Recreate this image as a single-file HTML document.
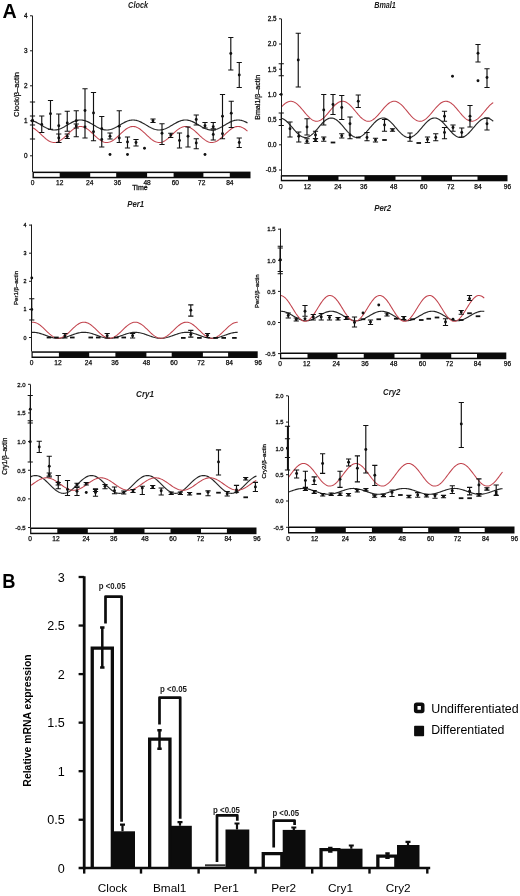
<!DOCTYPE html>
<html><head><meta charset="utf-8"><title>Figure</title>
<style>html,body{margin:0;padding:0;background:#fff;}svg{display:block;}</style>
</head><body>
<svg width="520" height="896" viewBox="0 0 520 896" font-family='"Liberation Sans", Arial, sans-serif'>
<rect width="520" height="896" fill="#fff"/>
<path d="M32.5,120.71 L33.5,121.04 L34.5,121.44 L35.5,121.88 L36.5,122.37 L37.5,122.9 L38.5,123.45 L39.5,124.03 L40.5,124.63 L41.5,125.22 L42.5,125.82 L43.5,126.4 L44.5,126.97 L45.5,127.5 L46.5,128 L47.5,128.46 L48.5,128.86 L49.5,129.21 L50.5,129.5 L51.5,129.73 L52.5,129.89 L53.5,129.98 L54.5,130 L55.5,129.94 L56.5,129.82 L57.5,129.63 L58.5,129.37 L59.5,129.05 L60.5,128.67 L61.5,128.23 L62.5,127.75 L63.5,127.24 L64.5,126.69 L65.5,126.11 L66.5,125.52 L67.5,124.93 L68.5,124.33 L69.5,123.74 L70.5,123.17 L71.5,122.63 L72.5,122.12 L73.5,121.65 L74.5,121.23 L75.5,120.87 L76.5,120.56 L77.5,120.32 L78.5,120.14 L79.5,120.04 L80.5,120 L81.5,120.04 L82.5,120.14 L83.5,120.32 L84.5,120.56 L85.5,120.87 L86.5,121.23 L87.5,121.65 L88.5,122.12 L89.5,122.63 L90.5,123.17 L91.5,123.74 L92.5,124.33 L93.5,124.93 L94.5,125.52 L95.5,126.11 L96.5,126.69 L97.5,127.24 L98.5,127.75 L99.5,128.23 L100.5,128.67 L101.5,129.05 L102.5,129.37 L103.5,129.63 L104.5,129.82 L105.5,129.94 L106.5,130 L107.5,129.98 L108.5,129.89 L109.5,129.73 L110.5,129.5 L111.5,129.21 L112.5,128.86 L113.5,128.46 L114.5,128 L115.5,127.5 L116.5,126.97 L117.5,126.4 L118.5,125.82 L119.5,125.22 L120.5,124.63 L121.5,124.03 L122.5,123.45 L123.5,122.9 L124.5,122.37 L125.5,121.88 L126.5,121.44 L127.5,121.04 L128.5,120.71 L129.5,120.43 L130.5,120.22 L131.5,120.08 L132.5,120.01 L133.5,120.01 L134.5,120.08 L135.5,120.22 L136.5,120.43 L137.5,120.71 L138.5,121.04 L139.5,121.44 L140.5,121.88 L141.5,122.37 L142.5,122.9 L143.5,123.45 L144.5,124.03 L145.5,124.63 L146.5,125.22 L147.5,125.82 L148.5,126.4 L149.5,126.97 L150.5,127.5 L151.5,128 L152.5,128.46 L153.5,128.86 L154.5,129.21 L155.5,129.5 L156.5,129.73 L157.5,129.89 L158.5,129.98 L159.5,130 L160.5,129.94 L161.5,129.82 L162.5,129.63 L163.5,129.37 L164.5,129.05 L165.5,128.67 L166.5,128.23 L167.5,127.75 L168.5,127.24 L169.5,126.69 L170.5,126.11 L171.5,125.52 L172.5,124.93 L173.5,124.33 L174.5,123.74 L175.5,123.17 L176.5,122.63 L177.5,122.12 L178.5,121.65 L179.5,121.23 L180.5,120.87 L181.5,120.56 L182.5,120.32 L183.5,120.14 L184.5,120.04 L185.5,120 L186.5,120.04 L187.5,120.14 L188.5,120.32 L189.5,120.56 L190.5,120.87 L191.5,121.23 L192.5,121.65 L193.5,122.12 L194.5,122.63 L195.5,123.17 L196.5,123.74 L197.5,124.33 L198.5,124.93 L199.5,125.52 L200.5,126.11 L201.5,126.69 L202.5,127.24 L203.5,127.75 L204.5,128.23 L205.5,128.67 L206.5,129.05 L207.5,129.37 L208.5,129.63 L209.5,129.82 L210.5,129.94 L211.5,130 L212.5,129.98 L213.5,129.89 L214.5,129.73 L215.5,129.5 L216.5,129.21 L217.5,128.86 L218.5,128.46 L219.5,128 L220.5,127.5 L221.5,126.97 L222.5,126.4 L223.5,125.82 L224.5,125.22 L225.5,124.63 L226.5,124.03 L227.5,123.45 L228.5,122.9 L229.5,122.37 L230.5,121.88 L231.5,121.44 L232.5,121.04 L233.5,120.71 L234.5,120.43 L235.5,120.22 L236.5,120.08 L237.5,120.01 L238.5,120.01 L239.5,120.08 L240.5,120.22 L241.5,120.43 L242.5,120.71 L243.5,121.04 L244.5,121.44 L245.5,121.88 L246.5,122.37 L247.5,122.9" fill="none" stroke="#262626" stroke-width="1.15"/>
<path d="M32.5,127.63 L33.5,128.17 L34.5,128.8 L35.5,129.51 L36.5,130.29 L37.5,131.14 L38.5,132.03 L39.5,132.95 L40.5,133.9 L41.5,134.86 L42.5,135.81 L43.5,136.74 L44.5,137.64 L45.5,138.5 L46.5,139.3 L47.5,140.03 L48.5,140.68 L49.5,141.24 L50.5,141.71 L51.5,142.07 L52.5,142.33 L53.5,142.47 L54.5,142.5 L55.5,142.41 L56.5,142.21 L57.5,141.9 L58.5,141.49 L59.5,140.97 L60.5,140.36 L61.5,139.67 L62.5,138.91 L63.5,138.08 L64.5,137.2 L65.5,136.28 L66.5,135.34 L67.5,134.38 L68.5,133.43 L69.5,132.49 L70.5,131.58 L71.5,130.71 L72.5,129.9 L73.5,129.15 L74.5,128.48 L75.5,127.89 L76.5,127.4 L77.5,127.01 L78.5,126.73 L79.5,126.56 L80.5,126.5 L81.5,126.56 L82.5,126.73 L83.5,127.01 L84.5,127.4 L85.5,127.89 L86.5,128.48 L87.5,129.15 L88.5,129.9 L89.5,130.71 L90.5,131.58 L91.5,132.49 L92.5,133.43 L93.5,134.38 L94.5,135.34 L95.5,136.28 L96.5,137.2 L97.5,138.08 L98.5,138.91 L99.5,139.67 L100.5,140.36 L101.5,140.97 L102.5,141.49 L103.5,141.9 L104.5,142.21 L105.5,142.41 L106.5,142.5 L107.5,142.47 L108.5,142.33 L109.5,142.07 L110.5,141.71 L111.5,141.24 L112.5,140.68 L113.5,140.03 L114.5,139.3 L115.5,138.5 L116.5,137.64 L117.5,136.74 L118.5,135.81 L119.5,134.86 L120.5,133.9 L121.5,132.95 L122.5,132.03 L123.5,131.14 L124.5,130.29 L125.5,129.51 L126.5,128.8 L127.5,128.17 L128.5,127.63 L129.5,127.19 L130.5,126.86 L131.5,126.63 L132.5,126.51 L133.5,126.51 L134.5,126.63 L135.5,126.86 L136.5,127.19 L137.5,127.63 L138.5,128.17 L139.5,128.8 L140.5,129.51 L141.5,130.29 L142.5,131.14 L143.5,132.03 L144.5,132.95 L145.5,133.9 L146.5,134.86 L147.5,135.81 L148.5,136.74 L149.5,137.64 L150.5,138.5 L151.5,139.3 L152.5,140.03 L153.5,140.68 L154.5,141.24 L155.5,141.71 L156.5,142.07 L157.5,142.33 L158.5,142.47 L159.5,142.5 L160.5,142.41 L161.5,142.21 L162.5,141.9 L163.5,141.49 L164.5,140.97 L165.5,140.36 L166.5,139.67 L167.5,138.91 L168.5,138.08 L169.5,137.2 L170.5,136.28 L171.5,135.34 L172.5,134.38 L173.5,133.43 L174.5,132.49 L175.5,131.58 L176.5,130.71 L177.5,129.9 L178.5,129.15 L179.5,128.48 L180.5,127.89 L181.5,127.4 L182.5,127.01 L183.5,126.73 L184.5,126.56 L185.5,126.5 L186.5,126.56 L187.5,126.73 L188.5,127.01 L189.5,127.4 L190.5,127.89 L191.5,128.48 L192.5,129.15 L193.5,129.9 L194.5,130.71 L195.5,131.58 L196.5,132.49 L197.5,133.43 L198.5,134.38 L199.5,135.34 L200.5,136.28 L201.5,137.2 L202.5,138.08 L203.5,138.91 L204.5,139.67 L205.5,140.36 L206.5,140.97 L207.5,141.49 L208.5,141.9 L209.5,142.21 L210.5,142.41 L211.5,142.5 L212.5,142.47 L213.5,142.33 L214.5,142.07 L215.5,141.71 L216.5,141.24 L217.5,140.68 L218.5,140.03 L219.5,139.3 L220.5,138.5 L221.5,137.64 L222.5,136.74 L223.5,135.81 L224.5,134.86 L225.5,133.9 L226.5,132.95 L227.5,132.03 L228.5,131.14 L229.5,130.29 L230.5,129.51 L231.5,128.8 L232.5,128.17 L233.5,127.63 L234.5,127.19 L235.5,126.86 L236.5,126.63 L237.5,126.51 L238.5,126.51 L239.5,126.63 L240.5,126.86 L241.5,127.19 L242.5,127.63 L243.5,128.17 L244.5,128.8 L245.5,129.51 L246.5,130.29 L247.5,131.14" fill="none" stroke="#c2444e" stroke-width="1.05"/>
<line x1="32.5" y1="15.8" x2="32.5" y2="172" stroke="#1c1c1c" stroke-width="1"/>
<line x1="30" y1="15.8" x2="32.5" y2="15.8" stroke="#1c1c1c" stroke-width="1"/>
<text x="27.5" y="18.23" font-size="6.4" text-anchor="end" stroke="#111" stroke-width="0.28">4</text>
<line x1="30" y1="50.8" x2="32.5" y2="50.8" stroke="#1c1c1c" stroke-width="1"/>
<text x="27.5" y="53.23" font-size="6.4" text-anchor="end" stroke="#111" stroke-width="0.28">3</text>
<line x1="30" y1="85.8" x2="32.5" y2="85.8" stroke="#1c1c1c" stroke-width="1"/>
<text x="27.5" y="88.23" font-size="6.4" text-anchor="end" stroke="#111" stroke-width="0.28">2</text>
<line x1="30" y1="120.8" x2="32.5" y2="120.8" stroke="#1c1c1c" stroke-width="1"/>
<text x="27.5" y="123.23" font-size="6.4" text-anchor="end" stroke="#111" stroke-width="0.28">1</text>
<line x1="30" y1="155.8" x2="32.5" y2="155.8" stroke="#1c1c1c" stroke-width="1"/>
<text x="27.5" y="158.23" font-size="6.4" text-anchor="end" stroke="#111" stroke-width="0.28">0</text>
<rect x="32.5" y="171.6" width="218" height="6.7" fill="#0a0a0a"/>
<rect x="33.9" y="173.1" width="25.8" height="3.7" fill="#fff"/>
<rect x="90.2" y="173.1" width="26" height="3.7" fill="#fff"/>
<rect x="147.1" y="173.1" width="26.5" height="3.7" fill="#fff"/>
<rect x="203.4" y="173.1" width="26.4" height="3.7" fill="#fff"/>
<text x="32.5" y="184.8" font-size="6.6" text-anchor="middle" stroke="#111" stroke-width="0.25">0</text>
<text x="59.7" y="184.8" font-size="6.6" text-anchor="middle" stroke="#111" stroke-width="0.25">12</text>
<text x="89.7" y="184.8" font-size="6.6" text-anchor="middle" stroke="#111" stroke-width="0.25">24</text>
<text x="117.4" y="184.8" font-size="6.6" text-anchor="middle" stroke="#111" stroke-width="0.25">36</text>
<text x="147.1" y="184.8" font-size="6.6" text-anchor="middle" stroke="#111" stroke-width="0.25">48</text>
<text x="175.3" y="184.8" font-size="6.6" text-anchor="middle" stroke="#111" stroke-width="0.25">60</text>
<text x="201.7" y="184.8" font-size="6.6" text-anchor="middle" stroke="#111" stroke-width="0.25">72</text>
<text x="229.8" y="184.8" font-size="6.6" text-anchor="middle" stroke="#111" stroke-width="0.25">84</text>
<text x="128.1" y="8.1" font-size="8.6" font-weight="bold" font-style="italic" fill="#1a1a1a" textLength="20" lengthAdjust="spacingAndGlyphs">Clock</text>
<text x="18.6" y="94.5" font-size="7.4" text-anchor="middle" textLength="45" lengthAdjust="spacingAndGlyphs" transform="rotate(-90 18.6 94.5)" stroke="#111" stroke-width="0.25">Clock/β–actin</text>
<path d="M32.5 102V139M29.9 102h5.2M29.9 139h5.2" stroke="#111" stroke-width="1.15" fill="none"/>
<circle cx="32.5" cy="120.5" r="1.45" fill="#111"/>
<path d="M32.5 116V125M29.9 116h5.2M29.9 125h5.2" stroke="#111" stroke-width="1.15" fill="none"/>
<circle cx="32.5" cy="121" r="1.45" fill="#111"/>
<path d="M41.75 116V132.5M39.15 116h5.2M39.15 132.5h5.2" stroke="#111" stroke-width="1.15" fill="none"/>
<circle cx="41.75" cy="124.5" r="1.45" fill="#111"/>
<path d="M50.5 100.5V129.25M47.9 100.5h5.2M47.9 129.25h5.2" stroke="#111" stroke-width="1.15" fill="none"/>
<circle cx="50.5" cy="113.75" r="1.45" fill="#111"/>
<path d="M58.75 114V142.5M56.15 114h5.2M56.15 142.5h5.2" stroke="#111" stroke-width="1.15" fill="none"/>
<circle cx="58.75" cy="125.75" r="1.45" fill="#111"/>
<path d="M58.75 134V142.5M56.15 134h5.2M56.15 142.5h5.2" stroke="#111" stroke-width="1.15" fill="none"/>
<circle cx="58.75" cy="138" r="1.45" fill="#111"/>
<path d="M67.25 111.25V131.25M64.65 111.25h5.2M64.65 131.25h5.2" stroke="#111" stroke-width="1.15" fill="none"/>
<circle cx="67.25" cy="123" r="1.45" fill="#111"/>
<path d="M67.25 134V138.5M64.65 134h5.2M64.65 138.5h5.2" stroke="#111" stroke-width="1.15" fill="none"/>
<circle cx="67.25" cy="136.5" r="1.45" fill="#111"/>
<path d="M76.25 110.75V136.75M73.65 110.75h5.2M73.65 136.75h5.2" stroke="#111" stroke-width="1.15" fill="none"/>
<circle cx="76.25" cy="120.75" r="1.45" fill="#111"/>
<path d="M76.25 124V128M73.65 124h5.2M73.65 128h5.2" stroke="#111" stroke-width="1.15" fill="none"/>
<circle cx="76.25" cy="126" r="1.45" fill="#111"/>
<path d="M85 88.75V138M82.4 88.75h5.2M82.4 138h5.2" stroke="#111" stroke-width="1.15" fill="none"/>
<circle cx="85" cy="110.5" r="1.45" fill="#111"/>
<circle cx="85" cy="127" r="1.45" fill="#111"/>
<path d="M93.5 92.5V140.75M90.9 92.5h5.2M90.9 140.75h5.2" stroke="#111" stroke-width="1.15" fill="none"/>
<circle cx="93.5" cy="113" r="1.45" fill="#111"/>
<circle cx="93.5" cy="131.75" r="1.45" fill="#111"/>
<path d="M101.75 116.5V147M99.15 116.5h5.2M99.15 147h5.2" stroke="#111" stroke-width="1.15" fill="none"/>
<circle cx="101.75" cy="128.75" r="1.45" fill="#111"/>
<circle cx="101.75" cy="139.5" r="1.45" fill="#111"/>
<path d="M110 133V139M107.4 133h5.2M107.4 139h5.2" stroke="#111" stroke-width="1.15" fill="none"/>
<circle cx="110" cy="136.25" r="1.45" fill="#111"/>
<circle cx="110" cy="154.5" r="1.45" fill="#111"/>
<path d="M119.25 110.75V142.5M116.65 110.75h5.2M116.65 142.5h5.2" stroke="#111" stroke-width="1.15" fill="none"/>
<circle cx="119.25" cy="126.25" r="1.45" fill="#111"/>
<circle cx="119.25" cy="138" r="1.45" fill="#111"/>
<path d="M127.5 137V148M124.9 137h5.2M124.9 148h5.2" stroke="#111" stroke-width="1.15" fill="none"/>
<circle cx="127.5" cy="142" r="1.45" fill="#111"/>
<circle cx="127.5" cy="154.5" r="1.45" fill="#111"/>
<path d="M136 139.5V146M133.4 139.5h5.2M133.4 146h5.2" stroke="#111" stroke-width="1.15" fill="none"/>
<circle cx="136" cy="142.5" r="1.45" fill="#111"/>
<circle cx="144.5" cy="148.25" r="1.45" fill="#111"/>
<path d="M153 119V122.5M150.4 119h5.2M150.4 122.5h5.2" stroke="#111" stroke-width="1.15" fill="none"/>
<circle cx="153" cy="120.75" r="1.45" fill="#111"/>
<path d="M162 123.75V144.5M159.4 123.75h5.2M159.4 144.5h5.2" stroke="#111" stroke-width="1.15" fill="none"/>
<circle cx="162" cy="133.25" r="1.45" fill="#111"/>
<path d="M170.75 133.25V137.5M168.15 133.25h5.2M168.15 137.5h5.2" stroke="#111" stroke-width="1.15" fill="none"/>
<circle cx="170.75" cy="135" r="1.45" fill="#111"/>
<path d="M179.5 133V148M176.9 133h5.2M176.9 148h5.2" stroke="#111" stroke-width="1.15" fill="none"/>
<circle cx="179.5" cy="140.5" r="1.45" fill="#111"/>
<path d="M188 127V147M185.4 127h5.2M185.4 147h5.2" stroke="#111" stroke-width="1.15" fill="none"/>
<circle cx="188" cy="136.25" r="1.45" fill="#111"/>
<path d="M196.25 115V125M193.65 115h5.2M193.65 125h5.2" stroke="#111" stroke-width="1.15" fill="none"/>
<circle cx="196.25" cy="119.5" r="1.45" fill="#111"/>
<path d="M196.25 138.75V148.75M193.65 138.75h5.2M193.65 148.75h5.2" stroke="#111" stroke-width="1.15" fill="none"/>
<circle cx="196.25" cy="143" r="1.45" fill="#111"/>
<path d="M205 122.5V128M202.4 122.5h5.2M202.4 128h5.2" stroke="#111" stroke-width="1.15" fill="none"/>
<circle cx="205" cy="125.75" r="1.45" fill="#111"/>
<circle cx="205" cy="154.5" r="1.45" fill="#111"/>
<path d="M213.25 122.5V128.75M210.65 122.5h5.2M210.65 128.75h5.2" stroke="#111" stroke-width="1.15" fill="none"/>
<circle cx="213.25" cy="126.75" r="1.45" fill="#111"/>
<path d="M213.25 130V140M210.65 130h5.2M210.65 140h5.2" stroke="#111" stroke-width="1.15" fill="none"/>
<circle cx="213.25" cy="134.5" r="1.45" fill="#111"/>
<path d="M222.5 94.5V138.75M219.9 94.5h5.2M219.9 138.75h5.2" stroke="#111" stroke-width="1.15" fill="none"/>
<circle cx="222.5" cy="116.25" r="1.45" fill="#111"/>
<circle cx="222.5" cy="133.75" r="1.45" fill="#111"/>
<path d="M230.8 37.5V70M228.2 37.5h5.2M228.2 70h5.2" stroke="#111" stroke-width="1.15" fill="none"/>
<circle cx="230.8" cy="53.5" r="1.45" fill="#111"/>
<path d="M231.25 101.25V127.5M228.65 101.25h5.2M228.65 127.5h5.2" stroke="#111" stroke-width="1.15" fill="none"/>
<circle cx="231.25" cy="113.25" r="1.45" fill="#111"/>
<path d="M239.25 62.5V87.5M236.65 62.5h5.2M236.65 87.5h5.2" stroke="#111" stroke-width="1.15" fill="none"/>
<circle cx="239.25" cy="75" r="1.45" fill="#111"/>
<path d="M239.25 138V147.5M236.65 138h5.2M236.65 147.5h5.2" stroke="#111" stroke-width="1.15" fill="none"/>
<circle cx="239.25" cy="142.5" r="1.45" fill="#111"/>
<path d="M281.25,118.21 L282.25,118.52 L283.25,118.97 L284.25,119.55 L285.25,120.25 L286.25,121.06 L287.25,121.97 L288.25,122.96 L289.25,124.03 L290.25,125.15 L291.25,126.3 L292.25,127.48 L293.25,128.67 L294.25,129.84 L295.25,130.98 L296.25,132.07 L297.25,133.1 L298.25,134.04 L299.25,134.9 L300.25,135.65 L301.25,136.29 L302.25,136.79 L303.25,137.17 L304.25,137.4 L305.25,137.5 L306.25,137.45 L307.25,137.25 L308.25,136.92 L309.25,136.45 L310.25,135.85 L311.25,135.14 L312.25,134.31 L313.25,133.39 L314.25,132.38 L315.25,131.31 L316.25,130.18 L317.25,129.02 L318.25,127.84 L319.25,126.66 L320.25,125.49 L321.25,124.36 L322.25,123.27 L323.25,122.26 L324.25,121.32 L325.25,120.48 L326.25,119.75 L327.25,119.13 L328.25,118.64 L329.25,118.29 L330.25,118.07 L331.25,118 L332.25,118.07 L333.25,118.29 L334.25,118.64 L335.25,119.13 L336.25,119.75 L337.25,120.48 L338.25,121.32 L339.25,122.26 L340.25,123.27 L341.25,124.36 L342.25,125.49 L343.25,126.66 L344.25,127.84 L345.25,129.02 L346.25,130.18 L347.25,131.31 L348.25,132.38 L349.25,133.39 L350.25,134.31 L351.25,135.14 L352.25,135.85 L353.25,136.45 L354.25,136.92 L355.25,137.25 L356.25,137.45 L357.25,137.5 L358.25,137.4 L359.25,137.17 L360.25,136.79 L361.25,136.29 L362.25,135.65 L363.25,134.9 L364.25,134.04 L365.25,133.1 L366.25,132.07 L367.25,130.98 L368.25,129.84 L369.25,128.67 L370.25,127.48 L371.25,126.3 L372.25,125.15 L373.25,124.03 L374.25,122.96 L375.25,121.97 L376.25,121.06 L377.25,120.25 L378.25,119.55 L379.25,118.97 L380.25,118.52 L381.25,118.21 L382.25,118.04 L383.25,118.01 L384.25,118.12 L385.25,118.38 L386.25,118.77 L387.25,119.3 L388.25,119.95 L389.25,120.72 L390.25,121.59 L391.25,122.55 L392.25,123.59 L393.25,124.69 L394.25,125.84 L395.25,127.01 L396.25,128.19 L397.25,129.37 L398.25,130.53 L399.25,131.64 L400.25,132.69 L401.25,133.68 L402.25,134.57 L403.25,135.36 L404.25,136.05 L405.25,136.61 L406.25,137.04 L407.25,137.33 L408.25,137.48 L409.25,137.49 L410.25,137.35 L411.25,137.07 L412.25,136.66 L413.25,136.11 L414.25,135.44 L415.25,134.65 L416.25,133.77 L417.25,132.8 L418.25,131.75 L419.25,130.64 L420.25,129.49 L421.25,128.31 L422.25,127.13 L423.25,125.95 L424.25,124.8 L425.25,123.7 L426.25,122.65 L427.25,121.68 L428.25,120.8 L429.25,120.03 L430.25,119.36 L431.25,118.82 L432.25,118.41 L433.25,118.14 L434.25,118.01 L435.25,118.03 L436.25,118.18 L437.25,118.48 L438.25,118.92 L439.25,119.48 L440.25,120.17 L441.25,120.97 L442.25,121.87 L443.25,122.86 L444.25,123.92 L445.25,125.03 L446.25,126.19 L447.25,127.36 L448.25,128.55 L449.25,129.72 L450.25,130.86 L451.25,131.96 L452.25,133 L453.25,133.95 L454.25,134.82 L455.25,135.58 L456.25,136.23 L457.25,136.75 L458.25,137.14 L459.25,137.39 L460.25,137.5 L461.25,137.46 L462.25,137.28 L463.25,136.96 L464.25,136.5 L465.25,135.92 L466.25,135.21 L467.25,134.4 L468.25,133.49 L469.25,132.49 L470.25,131.42 L471.25,130.3 L472.25,129.14 L473.25,127.96 L474.25,126.77 L475.25,125.61 L476.25,124.47 L477.25,123.38 L478.25,122.35 L479.25,121.41 L480.25,120.56 L481.25,119.81 L482.25,119.19 L483.25,118.68 L484.25,118.32 L485.25,118.09 L486.25,118 L487.25,118.06 L488.25,118.26 L489.25,118.6 L490.25,119.07 L491.25,119.68 L492.25,120.4 L493.25,121.23" fill="none" stroke="#262626" stroke-width="1.15"/>
<path d="M281.25,107.26 L282.25,106.18 L283.25,105.17 L284.25,104.25 L285.25,103.44 L286.25,102.74 L287.25,102.17 L288.25,101.73 L289.25,101.43 L290.25,101.27 L291.25,101.26 L292.25,101.4 L293.25,101.69 L294.25,102.12 L295.25,102.68 L296.25,103.36 L297.25,104.17 L298.25,105.08 L299.25,106.08 L300.25,107.15 L301.25,108.29 L302.25,109.47 L303.25,110.67 L304.25,111.89 L305.25,113.09 L306.25,114.27 L307.25,115.4 L308.25,116.48 L309.25,117.47 L310.25,118.37 L311.25,119.17 L312.25,119.85 L313.25,120.41 L314.25,120.83 L315.25,121.11 L316.25,121.24 L317.25,121.22 L318.25,121.06 L319.25,120.75 L320.25,120.31 L321.25,119.73 L322.25,119.02 L323.25,118.2 L324.25,117.28 L325.25,116.27 L326.25,115.18 L327.25,114.04 L328.25,112.85 L329.25,111.64 L330.25,110.43 L331.25,109.23 L332.25,108.06 L333.25,106.93 L334.25,105.87 L335.25,104.89 L336.25,104 L337.25,103.22 L338.25,102.55 L339.25,102.02 L340.25,101.62 L341.25,101.37 L342.25,101.25 L343.25,101.29 L344.25,101.48 L345.25,101.8 L346.25,102.27 L347.25,102.87 L348.25,103.59 L349.25,104.43 L350.25,105.37 L351.25,106.39 L352.25,107.49 L353.25,108.64 L354.25,109.83 L355.25,111.04 L356.25,112.25 L357.25,113.45 L358.25,114.62 L359.25,115.73 L360.25,116.78 L361.25,117.75 L362.25,118.63 L363.25,119.39 L364.25,120.03 L365.25,120.55 L366.25,120.93 L367.25,121.16 L368.25,121.25 L369.25,121.19 L370.25,120.98 L371.25,120.64 L372.25,120.15 L373.25,119.53 L374.25,118.79 L375.25,117.94 L376.25,116.98 L377.25,115.95 L378.25,114.84 L379.25,113.69 L380.25,112.49 L381.25,111.28 L382.25,110.07 L383.25,108.87 L384.25,107.71 L385.25,106.6 L386.25,105.57 L387.25,104.61 L388.25,103.75 L389.25,103.01 L390.25,102.38 L391.25,101.89 L392.25,101.53 L393.25,101.32 L394.25,101.25 L395.25,101.33 L396.25,101.56 L397.25,101.93 L398.25,102.44 L399.25,103.07 L400.25,103.83 L401.25,104.7 L402.25,105.67 L403.25,106.71 L404.25,107.83 L405.25,108.99 L406.25,110.19 L407.25,111.4 L408.25,112.61 L409.25,113.8 L410.25,114.96 L411.25,116.06 L412.25,117.08 L413.25,118.03 L414.25,118.87 L415.25,119.6 L416.25,120.2 L417.25,120.68 L418.25,121.01 L419.25,121.2 L420.25,121.25 L421.25,121.14 L422.25,120.89 L423.25,120.5 L424.25,119.98 L425.25,119.32 L426.25,118.54 L427.25,117.66 L428.25,116.68 L429.25,115.62 L430.25,114.5 L431.25,113.33 L432.25,112.13 L433.25,110.92 L434.25,109.71 L435.25,108.52 L436.25,107.37 L437.25,106.29 L438.25,105.27 L439.25,104.34 L440.25,103.52 L441.25,102.8 L442.25,102.22 L443.25,101.76 L444.25,101.45 L445.25,101.28 L446.25,101.26 L447.25,101.38 L448.25,101.66 L449.25,102.07 L450.25,102.62 L451.25,103.29 L452.25,104.08 L453.25,104.98 L454.25,105.97 L455.25,107.04 L456.25,108.17 L457.25,109.35 L458.25,110.55 L459.25,111.77 L460.25,112.97 L461.25,114.15 L462.25,115.29 L463.25,116.37 L464.25,117.38 L465.25,118.29 L466.25,119.1 L467.25,119.79 L468.25,120.36 L469.25,120.79 L470.25,121.08 L471.25,121.23 L472.25,121.23 L473.25,121.08 L474.25,120.79 L475.25,120.36 L476.25,119.79 L477.25,119.1 L478.25,118.29 L479.25,117.38 L480.25,116.37 L481.25,115.29 L482.25,114.15 L483.25,112.97 L484.25,111.77 L485.25,110.55 L486.25,109.35 L487.25,108.17 L488.25,107.04 L489.25,105.97 L490.25,104.98 L491.25,104.08 L492.25,103.29 L493.25,102.62" fill="none" stroke="#c2444e" stroke-width="1.05"/>
<line x1="281.5" y1="19" x2="281.5" y2="175" stroke="#1c1c1c" stroke-width="1"/>
<line x1="279" y1="18.8" x2="281.5" y2="18.8" stroke="#1c1c1c" stroke-width="1"/>
<text x="276.5" y="21.19" font-size="6.3" text-anchor="end" stroke="#111" stroke-width="0.28">2.5</text>
<line x1="279" y1="44" x2="281.5" y2="44" stroke="#1c1c1c" stroke-width="1"/>
<text x="276.5" y="46.39" font-size="6.3" text-anchor="end" stroke="#111" stroke-width="0.28">2.0</text>
<line x1="279" y1="69.2" x2="281.5" y2="69.2" stroke="#1c1c1c" stroke-width="1"/>
<text x="276.5" y="71.59" font-size="6.3" text-anchor="end" stroke="#111" stroke-width="0.28">1.5</text>
<line x1="279" y1="94.4" x2="281.5" y2="94.4" stroke="#1c1c1c" stroke-width="1"/>
<text x="276.5" y="96.79" font-size="6.3" text-anchor="end" stroke="#111" stroke-width="0.28">1.0</text>
<line x1="279" y1="119.6" x2="281.5" y2="119.6" stroke="#1c1c1c" stroke-width="1"/>
<text x="276.5" y="121.99" font-size="6.3" text-anchor="end" stroke="#111" stroke-width="0.28">0.5</text>
<line x1="279" y1="144.8" x2="281.5" y2="144.8" stroke="#1c1c1c" stroke-width="1"/>
<text x="276.5" y="147.19" font-size="6.3" text-anchor="end" stroke="#111" stroke-width="0.28">0.0</text>
<line x1="279" y1="170" x2="281.5" y2="170" stroke="#1c1c1c" stroke-width="1"/>
<text x="276.5" y="172.39" font-size="6.3" text-anchor="end" stroke="#111" stroke-width="0.28">-0.5</text>
<rect x="280.8" y="175.1" width="226.7" height="6.2" fill="#0a0a0a"/>
<rect x="282" y="176.6" width="26" height="3.2" fill="#fff"/>
<rect x="338.5" y="176.6" width="26" height="3.2" fill="#fff"/>
<rect x="395.5" y="176.6" width="25.75" height="3.2" fill="#fff"/>
<rect x="452" y="176.6" width="25.5" height="3.2" fill="#fff"/>
<text x="280.8" y="188.6" font-size="6.6" text-anchor="middle" stroke="#111" stroke-width="0.25">0</text>
<text x="307.3" y="188.6" font-size="6.6" text-anchor="middle" stroke="#111" stroke-width="0.25">12</text>
<text x="337.8" y="188.6" font-size="6.6" text-anchor="middle" stroke="#111" stroke-width="0.25">24</text>
<text x="363.75" y="188.6" font-size="6.6" text-anchor="middle" stroke="#111" stroke-width="0.25">36</text>
<text x="393.75" y="188.6" font-size="6.6" text-anchor="middle" stroke="#111" stroke-width="0.25">48</text>
<text x="423.75" y="188.6" font-size="6.6" text-anchor="middle" stroke="#111" stroke-width="0.25">60</text>
<text x="450.75" y="188.6" font-size="6.6" text-anchor="middle" stroke="#111" stroke-width="0.25">72</text>
<text x="478" y="188.6" font-size="6.6" text-anchor="middle" stroke="#111" stroke-width="0.25">84</text>
<text x="507.5" y="188.6" font-size="6.6" text-anchor="middle" stroke="#111" stroke-width="0.25">96</text>
<text x="374.2" y="7.8" font-size="8.6" font-weight="bold" font-style="italic" fill="#1a1a1a" textLength="21.6" lengthAdjust="spacingAndGlyphs">Bmal1</text>
<text x="259.6" y="97.3" font-size="7" text-anchor="middle" textLength="45" lengthAdjust="spacingAndGlyphs" transform="rotate(-90 259.6 97.3)" stroke="#111" stroke-width="0.25">Bmal1/β–actin</text>
<circle cx="281.25" cy="94.5" r="1.45" fill="#111"/>
<path d="M281.25 63.75V75.75M278.65 63.75h5.2M278.65 75.75h5.2" stroke="#111" stroke-width="1.15" fill="none"/>
<path d="M281.25 113V125.5M278.65 113h5.2M278.65 125.5h5.2" stroke="#111" stroke-width="1.15" fill="none"/>
<path d="M298.25 33.25V87M295.65 33.25h5.2M295.65 87h5.2" stroke="#111" stroke-width="1.15" fill="none"/>
<circle cx="298.25" cy="60" r="1.45" fill="#111"/>
<path d="M290 122V137M287.4 122h5.2M287.4 137h5.2" stroke="#111" stroke-width="1.15" fill="none"/>
<circle cx="290" cy="128.75" r="1.45" fill="#111"/>
<path d="M298.75 132V142M296.15 132h5.2M296.15 142h5.2" stroke="#111" stroke-width="1.15" fill="none"/>
<circle cx="298.75" cy="136.25" r="1.45" fill="#111"/>
<path d="M307 118.75V135M304.4 118.75h5.2M304.4 135h5.2" stroke="#111" stroke-width="1.15" fill="none"/>
<circle cx="307" cy="127" r="1.45" fill="#111"/>
<path d="M307 138.75V143.25M304.4 138.75h5.2M304.4 143.25h5.2" stroke="#111" stroke-width="1.15" fill="none"/>
<circle cx="307" cy="141.25" r="1.45" fill="#111"/>
<path d="M315.5 131.25V138.75M312.9 131.25h5.2M312.9 138.75h5.2" stroke="#111" stroke-width="1.15" fill="none"/>
<circle cx="315.5" cy="135" r="1.45" fill="#111"/>
<path d="M315.5 138.5V141.5M312.9 138.5h5.2M312.9 141.5h5.2" stroke="#111" stroke-width="1.15" fill="none"/>
<circle cx="315.5" cy="140" r="1.45" fill="#111"/>
<path d="M323.75 94.5V125M321.15 94.5h5.2M321.15 125h5.2" stroke="#111" stroke-width="1.15" fill="none"/>
<circle cx="323.75" cy="110" r="1.45" fill="#111"/>
<path d="M323.75 137V141.25M321.15 137h5.2M321.15 141.25h5.2" stroke="#111" stroke-width="1.15" fill="none"/>
<circle cx="323.75" cy="138.75" r="1.45" fill="#111"/>
<path d="M333 94.5V114.5M330.4 94.5h5.2M330.4 114.5h5.2" stroke="#111" stroke-width="1.15" fill="none"/>
<circle cx="333" cy="104.5" r="1.45" fill="#111"/>
<rect x="330.7" y="141.6" width="4.6" height="1.8" fill="#111"/>
<path d="M341.75 95.5V119.5M339.15 95.5h5.2M339.15 119.5h5.2" stroke="#111" stroke-width="1.15" fill="none"/>
<circle cx="341.75" cy="107.5" r="1.45" fill="#111"/>
<path d="M341.75 133.75V138M339.15 133.75h5.2M339.15 138h5.2" stroke="#111" stroke-width="1.15" fill="none"/>
<circle cx="341.75" cy="135.75" r="1.45" fill="#111"/>
<path d="M350 117V138.75M347.4 117h5.2M347.4 138.75h5.2" stroke="#111" stroke-width="1.15" fill="none"/>
<circle cx="350" cy="123.75" r="1.45" fill="#111"/>
<circle cx="350" cy="135" r="1.45" fill="#111"/>
<path d="M358.25 95V107.5M355.65 95h5.2M355.65 107.5h5.2" stroke="#111" stroke-width="1.15" fill="none"/>
<circle cx="358.25" cy="101.25" r="1.45" fill="#111"/>
<rect x="355.95" y="136.6" width="4.6" height="1.8" fill="#111"/>
<path d="M367 132.5V140.75M364.4 132.5h5.2M364.4 140.75h5.2" stroke="#111" stroke-width="1.15" fill="none"/>
<circle cx="367" cy="137.5" r="1.45" fill="#111"/>
<path d="M375.5 138.25V142M372.9 138.25h5.2M372.9 142h5.2" stroke="#111" stroke-width="1.15" fill="none"/>
<circle cx="375.5" cy="140" r="1.45" fill="#111"/>
<path d="M384.5 119.5V131.25M381.9 119.5h5.2M381.9 131.25h5.2" stroke="#111" stroke-width="1.15" fill="none"/>
<circle cx="384.5" cy="125" r="1.45" fill="#111"/>
<rect x="382.2" y="139.1" width="4.6" height="1.8" fill="#111"/>
<path d="M392.5 128.75V131.25M389.9 128.75h5.2M389.9 131.25h5.2" stroke="#111" stroke-width="1.15" fill="none"/>
<circle cx="392.5" cy="130" r="1.45" fill="#111"/>
<path d="M410 133V141.25M407.4 133h5.2M407.4 141.25h5.2" stroke="#111" stroke-width="1.15" fill="none"/>
<circle cx="410" cy="137.5" r="1.45" fill="#111"/>
<rect x="416.45" y="142.1" width="4.6" height="1.8" fill="#111"/>
<path d="M427.5 137V142.5M424.9 137h5.2M424.9 142.5h5.2" stroke="#111" stroke-width="1.15" fill="none"/>
<circle cx="427.5" cy="139.5" r="1.45" fill="#111"/>
<path d="M435.75 133.75V140.75M433.15 133.75h5.2M433.15 140.75h5.2" stroke="#111" stroke-width="1.15" fill="none"/>
<circle cx="435.75" cy="137.5" r="1.45" fill="#111"/>
<path d="M444.5 111.25V121.25M441.9 111.25h5.2M441.9 121.25h5.2" stroke="#111" stroke-width="1.15" fill="none"/>
<circle cx="444.5" cy="116.25" r="1.45" fill="#111"/>
<path d="M444.5 127.5V138.75M441.9 127.5h5.2M441.9 138.75h5.2" stroke="#111" stroke-width="1.15" fill="none"/>
<circle cx="444.5" cy="132.5" r="1.45" fill="#111"/>
<circle cx="452.5" cy="76.25" r="1.45" fill="#111"/>
<path d="M453 125V131.25M450.4 125h5.2M450.4 131.25h5.2" stroke="#111" stroke-width="1.15" fill="none"/>
<circle cx="453" cy="127.5" r="1.45" fill="#111"/>
<path d="M461.75 128V137M459.15 128h5.2M459.15 137h5.2" stroke="#111" stroke-width="1.15" fill="none"/>
<circle cx="461.75" cy="132.5" r="1.45" fill="#111"/>
<path d="M470 105.5V127M467.4 105.5h5.2M467.4 127h5.2" stroke="#111" stroke-width="1.15" fill="none"/>
<circle cx="470" cy="116.25" r="1.45" fill="#111"/>
<circle cx="470" cy="120" r="1.45" fill="#111"/>
<path d="M478 44.5V62M475.4 44.5h5.2M475.4 62h5.2" stroke="#111" stroke-width="1.15" fill="none"/>
<circle cx="478" cy="53.25" r="1.45" fill="#111"/>
<circle cx="478" cy="80.75" r="1.45" fill="#111"/>
<path d="M487 68.75V87.5M484.4 68.75h5.2M484.4 87.5h5.2" stroke="#111" stroke-width="1.15" fill="none"/>
<circle cx="487" cy="77.5" r="1.45" fill="#111"/>
<path d="M487 118V130M484.4 118h5.2M484.4 130h5.2" stroke="#111" stroke-width="1.15" fill="none"/>
<circle cx="487" cy="123.75" r="1.45" fill="#111"/>
<path d="M31.75,332.32 L32.75,332.3 L33.75,332.32 L34.75,332.39 L35.75,332.49 L36.75,332.65 L37.75,332.84 L38.75,333.06 L39.75,333.33 L40.75,333.62 L41.75,333.93 L42.75,334.27 L43.75,334.62 L44.75,334.99 L45.75,335.36 L46.75,335.72 L47.75,336.08 L48.75,336.43 L49.75,336.76 L50.75,337.07 L51.75,337.36 L52.75,337.61 L53.75,337.82 L54.75,338 L55.75,338.14 L56.75,338.24 L57.75,338.29 L58.75,338.3 L59.75,338.26 L60.75,338.18 L61.75,338.05 L62.75,337.88 L63.75,337.68 L64.75,337.43 L65.75,337.16 L66.75,336.86 L67.75,336.53 L68.75,336.19 L69.75,335.83 L70.75,335.47 L71.75,335.1 L72.75,334.73 L73.75,334.38 L74.75,334.03 L75.75,333.71 L76.75,333.41 L77.75,333.14 L78.75,332.9 L79.75,332.7 L80.75,332.54 L81.75,332.41 L82.75,332.34 L83.75,332.3 L84.75,332.31 L85.75,332.37 L86.75,332.47 L87.75,332.61 L88.75,332.8 L89.75,333.02 L90.75,333.27 L91.75,333.56 L92.75,333.87 L93.75,334.2 L94.75,334.55 L95.75,334.91 L96.75,335.28 L97.75,335.65 L98.75,336.01 L99.75,336.36 L100.75,336.7 L101.75,337.01 L102.75,337.3 L103.75,337.56 L104.75,337.78 L105.75,337.97 L106.75,338.12 L107.75,338.22 L108.75,338.28 L109.75,338.3 L110.75,338.27 L111.75,338.2 L112.75,338.08 L113.75,337.92 L114.75,337.72 L115.75,337.49 L116.75,337.22 L117.75,336.92 L118.75,336.6 L119.75,336.26 L120.75,335.9 L121.75,335.54 L122.75,335.17 L123.75,334.81 L124.75,334.45 L125.75,334.1 L126.75,333.77 L127.75,333.47 L128.75,333.19 L129.75,332.95 L130.75,332.74 L131.75,332.56 L132.75,332.43 L133.75,332.35 L134.75,332.3 L135.75,332.31 L136.75,332.35 L137.75,332.45 L138.75,332.58 L139.75,332.76 L140.75,332.97 L141.75,333.22 L142.75,333.5 L143.75,333.81 L144.75,334.13 L145.75,334.48 L146.75,334.84 L147.75,335.21 L148.75,335.58 L149.75,335.94 L150.75,336.29 L151.75,336.63 L152.75,336.95 L153.75,337.25 L154.75,337.51 L155.75,337.74 L156.75,337.94 L157.75,338.09 L158.75,338.21 L159.75,338.28 L160.75,338.3 L161.75,338.28 L162.75,338.21 L163.75,338.11 L164.75,337.95 L165.75,337.76 L166.75,337.54 L167.75,337.27 L168.75,336.98 L169.75,336.67 L170.75,336.33 L171.75,335.98 L172.75,335.61 L173.75,335.24 L174.75,334.88 L175.75,334.52 L176.75,334.17 L177.75,333.84 L178.75,333.53 L179.75,333.24 L180.75,332.99 L181.75,332.78 L182.75,332.6 L183.75,332.46 L184.75,332.36 L185.75,332.31 L186.75,332.3 L187.75,332.34 L188.75,332.42 L189.75,332.55 L190.75,332.72 L191.75,332.92 L192.75,333.17 L193.75,333.44 L194.75,333.74 L195.75,334.07 L196.75,334.41 L197.75,334.77 L198.75,335.13 L199.75,335.5 L200.75,335.87 L201.75,336.22 L202.75,336.57 L203.75,336.89 L204.75,337.19 L205.75,337.46 L206.75,337.7 L207.75,337.9 L208.75,338.06 L209.75,338.19 L210.75,338.26 L211.75,338.3 L212.75,338.29 L213.75,338.23 L214.75,338.13 L215.75,337.99 L216.75,337.8 L217.75,337.58 L218.75,337.33 L219.75,337.04 L220.75,336.73 L221.75,336.4 L222.75,336.05 L223.75,335.69 L224.75,335.32 L225.75,334.95 L226.75,334.59 L227.75,334.24 L228.75,333.9 L229.75,333.59 L230.75,333.3 L231.75,333.04 L232.75,332.82 L233.75,332.63 L234.75,332.48 L235.75,332.38 L236.75,332.32 L237.75,332.3" fill="none" stroke="#262626" stroke-width="1.15"/>
<path d="M31.75,322.27 L32.75,322.2 L33.75,322.25 L34.75,322.43 L35.75,322.72 L36.75,323.12 L37.75,323.63 L38.75,324.24 L39.75,324.94 L40.75,325.71 L41.75,326.56 L42.75,327.46 L43.75,328.4 L44.75,329.37 L45.75,330.35 L46.75,331.33 L47.75,332.29 L48.75,333.22 L49.75,334.1 L50.75,334.93 L51.75,335.68 L52.75,336.35 L53.75,336.93 L54.75,337.41 L55.75,337.78 L56.75,338.04 L57.75,338.17 L58.75,338.19 L59.75,338.09 L60.75,337.87 L61.75,337.53 L62.75,337.09 L63.75,336.54 L64.75,335.89 L65.75,335.16 L66.75,334.35 L67.75,333.49 L68.75,332.57 L69.75,331.62 L70.75,330.64 L71.75,329.66 L72.75,328.69 L73.75,327.74 L74.75,326.82 L75.75,325.96 L76.75,325.16 L77.75,324.44 L78.75,323.8 L79.75,323.26 L80.75,322.83 L81.75,322.5 L82.75,322.29 L83.75,322.2 L84.75,322.23 L85.75,322.38 L86.75,322.65 L87.75,323.03 L88.75,323.52 L89.75,324.11 L90.75,324.79 L91.75,325.55 L92.75,326.39 L93.75,327.28 L94.75,328.21 L95.75,329.17 L96.75,330.15 L97.75,331.13 L98.75,332.1 L99.75,333.03 L100.75,333.93 L101.75,334.77 L102.75,335.54 L103.75,336.23 L104.75,336.82 L105.75,337.32 L106.75,337.72 L107.75,337.99 L108.75,338.16 L109.75,338.2 L110.75,338.12 L111.75,337.92 L112.75,337.61 L113.75,337.18 L114.75,336.65 L115.75,336.03 L116.75,335.31 L117.75,334.52 L118.75,333.66 L119.75,332.76 L120.75,331.81 L121.75,330.84 L122.75,329.86 L123.75,328.88 L124.75,327.92 L125.75,327 L126.75,326.13 L127.75,325.32 L128.75,324.58 L129.75,323.92 L130.75,323.36 L131.75,322.91 L132.75,322.56 L133.75,322.33 L134.75,322.21 L135.75,322.22 L136.75,322.34 L137.75,322.59 L138.75,322.95 L139.75,323.42 L140.75,323.98 L141.75,324.65 L142.75,325.4 L143.75,326.21 L144.75,327.09 L145.75,328.02 L146.75,328.98 L147.75,329.95 L148.75,330.94 L149.75,331.9 L150.75,332.85 L151.75,333.75 L152.75,334.6 L153.75,335.39 L154.75,336.09 L155.75,336.71 L156.75,337.23 L157.75,337.65 L158.75,337.95 L159.75,338.13 L160.75,338.2 L161.75,338.15 L162.75,337.97 L163.75,337.68 L164.75,337.28 L165.75,336.77 L166.75,336.16 L167.75,335.46 L168.75,334.69 L169.75,333.84 L170.75,332.94 L171.75,332 L172.75,331.03 L173.75,330.05 L174.75,329.07 L175.75,328.11 L176.75,327.18 L177.75,326.3 L178.75,325.47 L179.75,324.72 L180.75,324.05 L181.75,323.47 L182.75,322.99 L183.75,322.62 L184.75,322.36 L185.75,322.23 L186.75,322.21 L187.75,322.31 L188.75,322.53 L189.75,322.87 L190.75,323.31 L191.75,323.86 L192.75,324.51 L193.75,325.24 L194.75,326.05 L195.75,326.91 L196.75,327.83 L197.75,328.78 L198.75,329.76 L199.75,330.74 L200.75,331.71 L201.75,332.66 L202.75,333.58 L203.75,334.44 L204.75,335.24 L205.75,335.96 L206.75,336.6 L207.75,337.14 L208.75,337.57 L209.75,337.9 L210.75,338.11 L211.75,338.2 L212.75,338.17 L213.75,338.02 L214.75,337.75 L215.75,337.37 L216.75,336.88 L217.75,336.29 L218.75,335.61 L219.75,334.85 L220.75,334.01 L221.75,333.12 L222.75,332.19 L223.75,331.23 L224.75,330.25 L225.75,329.27 L226.75,328.3 L227.75,327.37 L228.75,326.47 L229.75,325.63 L230.75,324.86 L231.75,324.17 L232.75,323.58 L233.75,323.08 L234.75,322.68 L235.75,322.41 L236.75,322.24 L237.75,322.2" fill="none" stroke="#c2444e" stroke-width="1.05"/>
<line x1="31.5" y1="224.5" x2="31.5" y2="351.5" stroke="#1c1c1c" stroke-width="1"/>
<line x1="29" y1="225.1" x2="31.5" y2="225.1" stroke="#1c1c1c" stroke-width="1"/>
<text x="26.5" y="227.15" font-size="5.4" text-anchor="end" stroke="#111" stroke-width="0.28">4</text>
<line x1="29" y1="253.2" x2="31.5" y2="253.2" stroke="#1c1c1c" stroke-width="1"/>
<text x="26.5" y="255.25" font-size="5.4" text-anchor="end" stroke="#111" stroke-width="0.28">3</text>
<line x1="29" y1="281.3" x2="31.5" y2="281.3" stroke="#1c1c1c" stroke-width="1"/>
<text x="26.5" y="283.35" font-size="5.4" text-anchor="end" stroke="#111" stroke-width="0.28">2</text>
<line x1="29" y1="309.4" x2="31.5" y2="309.4" stroke="#1c1c1c" stroke-width="1"/>
<text x="26.5" y="311.45" font-size="5.4" text-anchor="end" stroke="#111" stroke-width="0.28">1</text>
<line x1="29" y1="337.5" x2="31.5" y2="337.5" stroke="#1c1c1c" stroke-width="1"/>
<text x="26.5" y="339.55" font-size="5.4" text-anchor="end" stroke="#111" stroke-width="0.28">0</text>
<rect x="31.5" y="351.3" width="226.2" height="6.7" fill="#0a0a0a"/>
<rect x="32.7" y="352.8" width="26.2" height="3.7" fill="#fff"/>
<rect x="89.2" y="352.8" width="26.2" height="3.7" fill="#fff"/>
<rect x="146.4" y="352.8" width="25.3" height="3.7" fill="#fff"/>
<rect x="202.9" y="352.8" width="25.2" height="3.7" fill="#fff"/>
<text x="31.5" y="365.1" font-size="6.6" text-anchor="middle" stroke="#111" stroke-width="0.25">0</text>
<text x="58" y="365.1" font-size="6.6" text-anchor="middle" stroke="#111" stroke-width="0.25">12</text>
<text x="88.5" y="365.1" font-size="6.6" text-anchor="middle" stroke="#111" stroke-width="0.25">24</text>
<text x="115" y="365.1" font-size="6.6" text-anchor="middle" stroke="#111" stroke-width="0.25">36</text>
<text x="146.4" y="365.1" font-size="6.6" text-anchor="middle" stroke="#111" stroke-width="0.25">48</text>
<text x="174" y="365.1" font-size="6.6" text-anchor="middle" stroke="#111" stroke-width="0.25">60</text>
<text x="201" y="365.1" font-size="6.6" text-anchor="middle" stroke="#111" stroke-width="0.25">72</text>
<text x="229.3" y="365.1" font-size="6.6" text-anchor="middle" stroke="#111" stroke-width="0.25">84</text>
<text x="258.2" y="365.1" font-size="6.6" text-anchor="middle" stroke="#111" stroke-width="0.25">96</text>
<text x="127.3" y="206.7" font-size="8.6" font-weight="bold" font-style="italic" fill="#1a1a1a" textLength="16.8" lengthAdjust="spacingAndGlyphs">Per1</text>
<text x="17.6" y="288" font-size="6.2" text-anchor="middle" textLength="34" lengthAdjust="spacingAndGlyphs" transform="rotate(-90 17.6 288)" stroke="#111" stroke-width="0.25">Per1/β–actin</text>
<circle cx="31.75" cy="278" r="1.45" fill="#111"/>
<path d="M31.75 298.75V320M29.15 298.75h5.2M29.15 320h5.2" stroke="#111" stroke-width="1.15" fill="none"/>
<circle cx="31.75" cy="309.5" r="1.45" fill="#111"/>
<rect x="46.7" y="336.6" width="4.6" height="1.8" fill="#111"/>
<rect x="54.1" y="336.6" width="4.6" height="1.8" fill="#111"/>
<path d="M64.9 333.5V338M62.3 333.5h5.2M62.3 338h5.2" stroke="#111" stroke-width="1.15" fill="none"/>
<circle cx="64.9" cy="335.7" r="1.45" fill="#111"/>
<rect x="70" y="336.6" width="4.6" height="1.8" fill="#111"/>
<rect x="88.45" y="336.6" width="4.6" height="1.8" fill="#111"/>
<rect x="95.95" y="336.6" width="4.6" height="1.8" fill="#111"/>
<path d="M107.2 333.5V338M104.6 333.5h5.2M104.6 338h5.2" stroke="#111" stroke-width="1.15" fill="none"/>
<circle cx="107.2" cy="335.7" r="1.45" fill="#111"/>
<rect x="113.95" y="336.6" width="4.6" height="1.8" fill="#111"/>
<rect x="121.45" y="336.6" width="4.6" height="1.8" fill="#111"/>
<path d="M132.6 333.5V338M130 333.5h5.2M130 338h5.2" stroke="#111" stroke-width="1.15" fill="none"/>
<circle cx="132.6" cy="335.7" r="1.45" fill="#111"/>
<rect x="181" y="337" width="4.6" height="1.8" fill="#111"/>
<path d="M190.8 304.8V316.1M188.2 304.8h5.2M188.2 316.1h5.2" stroke="#111" stroke-width="1.15" fill="none"/>
<circle cx="190.8" cy="310.2" r="1.45" fill="#111"/>
<path d="M190.8 330.4V337.1M188.2 330.4h5.2M188.2 337.1h5.2" stroke="#111" stroke-width="1.15" fill="none"/>
<circle cx="190.8" cy="334.4" r="1.45" fill="#111"/>
<rect x="197.1" y="337" width="4.6" height="1.8" fill="#111"/>
<path d="M207.5 333.5V337.5M204.9 333.5h5.2M204.9 337.5h5.2" stroke="#111" stroke-width="1.15" fill="none"/>
<circle cx="207.5" cy="335.2" r="1.45" fill="#111"/>
<rect x="213.3" y="337" width="4.6" height="1.8" fill="#111"/>
<rect x="221.4" y="337" width="4.6" height="1.8" fill="#111"/>
<rect x="232.1" y="337" width="4.6" height="1.8" fill="#111"/>
<path d="M280.25,311.26 L281.25,311.26 L282.25,311.32 L283.25,311.46 L284.25,311.67 L285.25,311.95 L286.25,312.29 L287.25,312.68 L288.25,313.13 L289.25,313.62 L290.25,314.15 L291.25,314.71 L292.25,315.29 L293.25,315.88 L294.25,316.47 L295.25,317.06 L296.25,317.62 L297.25,318.17 L298.25,318.68 L299.25,319.14 L300.25,319.56 L301.25,319.92 L302.25,320.23 L303.25,320.46 L304.25,320.63 L305.25,320.73 L306.25,320.75 L307.25,320.7 L308.25,320.57 L309.25,320.38 L310.25,320.11 L311.25,319.79 L312.25,319.4 L313.25,318.96 L314.25,318.48 L315.25,317.95 L316.25,317.4 L317.25,316.82 L318.25,316.24 L319.25,315.65 L320.25,315.06 L321.25,314.49 L322.25,313.94 L323.25,313.42 L324.25,312.95 L325.25,312.52 L326.25,312.14 L327.25,311.83 L328.25,311.58 L329.25,311.4 L330.25,311.29 L331.25,311.25 L332.25,311.29 L333.25,311.4 L334.25,311.58 L335.25,311.83 L336.25,312.14 L337.25,312.52 L338.25,312.95 L339.25,313.42 L340.25,313.94 L341.25,314.49 L342.25,315.06 L343.25,315.65 L344.25,316.24 L345.25,316.82 L346.25,317.4 L347.25,317.95 L348.25,318.48 L349.25,318.96 L350.25,319.4 L351.25,319.79 L352.25,320.11 L353.25,320.38 L354.25,320.57 L355.25,320.7 L356.25,320.75 L357.25,320.73 L358.25,320.63 L359.25,320.46 L360.25,320.23 L361.25,319.92 L362.25,319.56 L363.25,319.14 L364.25,318.68 L365.25,318.17 L366.25,317.62 L367.25,317.06 L368.25,316.47 L369.25,315.88 L370.25,315.29 L371.25,314.71 L372.25,314.15 L373.25,313.62 L374.25,313.13 L375.25,312.68 L376.25,312.29 L377.25,311.95 L378.25,311.67 L379.25,311.46 L380.25,311.32 L381.25,311.26 L382.25,311.26 L383.25,311.34 L384.25,311.5 L385.25,311.72 L386.25,312.01 L387.25,312.36 L388.25,312.77 L389.25,313.23 L390.25,313.73 L391.25,314.26 L392.25,314.83 L393.25,315.41 L394.25,316 L395.25,316.59 L396.25,317.17 L397.25,317.74 L398.25,318.27 L399.25,318.77 L400.25,319.23 L401.25,319.64 L402.25,319.99 L403.25,320.28 L404.25,320.5 L405.25,320.66 L406.25,320.74 L407.25,320.74 L408.25,320.68 L409.25,320.54 L410.25,320.33 L411.25,320.05 L412.25,319.71 L413.25,319.32 L414.25,318.87 L415.25,318.38 L416.25,317.85 L417.25,317.29 L418.25,316.71 L419.25,316.12 L420.25,315.53 L421.25,314.94 L422.25,314.38 L423.25,313.83 L424.25,313.32 L425.25,312.86 L426.25,312.44 L427.25,312.08 L428.25,311.77 L429.25,311.54 L430.25,311.37 L431.25,311.27 L432.25,311.25 L433.25,311.3 L434.25,311.43 L435.25,311.62 L436.25,311.89 L437.25,312.21 L438.25,312.6 L439.25,313.04 L440.25,313.52 L441.25,314.05 L442.25,314.6 L443.25,315.18 L444.25,315.76 L445.25,316.35 L446.25,316.94 L447.25,317.51 L448.25,318.06 L449.25,318.58 L450.25,319.05 L451.25,319.48 L452.25,319.86 L453.25,320.17 L454.25,320.42 L455.25,320.6 L456.25,320.71 L457.25,320.75 L458.25,320.71 L459.25,320.6 L460.25,320.42 L461.25,320.17 L462.25,319.86 L463.25,319.48 L464.25,319.05 L465.25,318.58 L466.25,318.06 L467.25,317.51 L468.25,316.94 L469.25,316.35 L470.25,315.76 L471.25,315.18 L472.25,314.6 L473.25,314.05 L474.25,313.52 L475.25,313.04 L476.25,312.6 L477.25,312.21 L478.25,311.89 L479.25,311.62 L480.25,311.43 L481.25,311.3 L482.25,311.25 L483.25,311.27 L484.25,311.37" fill="none" stroke="#262626" stroke-width="1.15"/>
<path d="M280.25,295.5 L281.25,295.59 L282.25,295.89 L283.25,296.39 L284.25,297.08 L285.25,297.94 L286.25,298.98 L287.25,300.17 L288.25,301.49 L289.25,302.91 L290.25,304.43 L291.25,306.01 L292.25,307.63 L293.25,309.26 L294.25,310.87 L295.25,312.45 L296.25,313.96 L297.25,315.38 L298.25,316.7 L299.25,317.87 L300.25,318.9 L301.25,319.76 L302.25,320.44 L303.25,320.93 L304.25,321.22 L305.25,321.3 L306.25,321.18 L307.25,320.85 L308.25,320.32 L309.25,319.61 L310.25,318.71 L311.25,317.65 L312.25,316.44 L313.25,315.11 L314.25,313.66 L315.25,312.14 L316.25,310.55 L317.25,308.93 L318.25,307.3 L319.25,305.69 L320.25,304.12 L321.25,302.62 L322.25,301.21 L323.25,299.92 L324.25,298.76 L325.25,297.76 L326.25,296.92 L327.25,296.27 L328.25,295.81 L329.25,295.56 L330.25,295.51 L331.25,295.66 L332.25,296.02 L333.25,296.57 L334.25,297.32 L335.25,298.24 L336.25,299.32 L337.25,300.55 L338.25,301.9 L339.25,303.36 L340.25,304.9 L341.25,306.49 L342.25,308.11 L343.25,309.74 L344.25,311.35 L345.25,312.91 L346.25,314.4 L347.25,315.79 L348.25,317.06 L349.25,318.2 L350.25,319.18 L351.25,319.99 L352.25,320.61 L353.25,321.04 L354.25,321.26 L355.25,321.28 L356.25,321.1 L357.25,320.71 L358.25,320.13 L359.25,319.36 L360.25,318.41 L361.25,317.3 L362.25,316.05 L363.25,314.68 L364.25,313.21 L365.25,311.67 L366.25,310.07 L367.25,308.44 L368.25,306.81 L369.25,305.21 L370.25,303.66 L371.25,302.19 L372.25,300.81 L373.25,299.56 L374.25,298.44 L375.25,297.49 L376.25,296.71 L377.25,296.11 L378.25,295.72 L379.25,295.52 L380.25,295.53 L381.25,295.75 L382.25,296.16 L383.25,296.78 L384.25,297.58 L385.25,298.55 L386.25,299.68 L387.25,300.94 L388.25,302.33 L389.25,303.81 L390.25,305.37 L391.25,306.98 L392.25,308.6 L393.25,310.23 L394.25,311.82 L395.25,313.36 L396.25,314.83 L397.25,316.19 L398.25,317.42 L399.25,318.51 L400.25,319.44 L401.25,320.19 L402.25,320.76 L403.25,321.13 L404.25,321.29 L405.25,321.25 L406.25,321 L407.25,320.56 L408.25,319.91 L409.25,319.09 L410.25,318.09 L411.25,316.94 L412.25,315.66 L413.25,314.25 L414.25,312.76 L415.25,311.19 L416.25,309.58 L417.25,307.95 L418.25,306.33 L419.25,304.74 L420.25,303.21 L421.25,301.76 L422.25,300.42 L423.25,299.21 L424.25,298.14 L425.25,297.24 L426.25,296.51 L427.25,295.97 L428.25,295.64 L429.25,295.5 L430.25,295.57 L431.25,295.85 L432.25,296.33 L433.25,297 L434.25,297.85 L435.25,298.87 L436.25,300.04 L437.25,301.35 L438.25,302.77 L439.25,304.27 L440.25,305.85 L441.25,307.46 L442.25,309.09 L443.25,310.71 L444.25,312.29 L445.25,313.81 L446.25,315.25 L447.25,316.57 L448.25,317.76 L449.25,318.81 L450.25,319.69 L451.25,320.38 L452.25,320.89 L453.25,321.2 L454.25,321.3 L455.25,321.2 L456.25,320.89 L457.25,320.38 L458.25,319.69 L459.25,318.81 L460.25,317.76 L461.25,316.57 L462.25,315.25 L463.25,313.81 L464.25,312.29 L465.25,310.71 L466.25,309.09 L467.25,307.46 L468.25,305.85 L469.25,304.27 L470.25,302.77 L471.25,301.35 L472.25,300.04 L473.25,298.87 L474.25,297.85 L475.25,297 L476.25,296.33 L477.25,295.85 L478.25,295.57 L479.25,295.5 L480.25,295.64 L481.25,295.97 L482.25,296.51 L483.25,297.24 L484.25,298.14" fill="none" stroke="#c2444e" stroke-width="1.05"/>
<line x1="280.5" y1="228.5" x2="280.5" y2="352.5" stroke="#1c1c1c" stroke-width="1"/>
<line x1="278" y1="229.2" x2="280.5" y2="229.2" stroke="#1c1c1c" stroke-width="1"/>
<text x="275.5" y="231.44" font-size="5.9" text-anchor="end" stroke="#111" stroke-width="0.28">1.5</text>
<line x1="278" y1="260.3" x2="280.5" y2="260.3" stroke="#1c1c1c" stroke-width="1"/>
<text x="275.5" y="262.54" font-size="5.9" text-anchor="end" stroke="#111" stroke-width="0.28">1.0</text>
<line x1="278" y1="291.4" x2="280.5" y2="291.4" stroke="#1c1c1c" stroke-width="1"/>
<text x="275.5" y="293.64" font-size="5.9" text-anchor="end" stroke="#111" stroke-width="0.28">0.5</text>
<line x1="278" y1="322.5" x2="280.5" y2="322.5" stroke="#1c1c1c" stroke-width="1"/>
<text x="275.5" y="324.74" font-size="5.9" text-anchor="end" stroke="#111" stroke-width="0.28">0.0</text>
<line x1="278" y1="353.6" x2="280.5" y2="353.6" stroke="#1c1c1c" stroke-width="1"/>
<text x="275.5" y="355.84" font-size="5.9" text-anchor="end" stroke="#111" stroke-width="0.28">-0.5</text>
<rect x="280" y="352.5" width="226.3" height="6.7" fill="#0a0a0a"/>
<rect x="281.25" y="354" width="26.25" height="3.7" fill="#fff"/>
<rect x="337.5" y="354" width="26.25" height="3.7" fill="#fff"/>
<rect x="394.5" y="354" width="26" height="3.7" fill="#fff"/>
<rect x="451.25" y="354" width="25.75" height="3.7" fill="#fff"/>
<text x="280" y="366" font-size="6.6" text-anchor="middle" stroke="#111" stroke-width="0.25">0</text>
<text x="306.75" y="366" font-size="6.6" text-anchor="middle" stroke="#111" stroke-width="0.25">12</text>
<text x="336.25" y="366" font-size="6.6" text-anchor="middle" stroke="#111" stroke-width="0.25">24</text>
<text x="365" y="366" font-size="6.6" text-anchor="middle" stroke="#111" stroke-width="0.25">36</text>
<text x="393.75" y="366" font-size="6.6" text-anchor="middle" stroke="#111" stroke-width="0.25">48</text>
<text x="422.5" y="366" font-size="6.6" text-anchor="middle" stroke="#111" stroke-width="0.25">60</text>
<text x="449.5" y="366" font-size="6.6" text-anchor="middle" stroke="#111" stroke-width="0.25">72</text>
<text x="477.5" y="366" font-size="6.6" text-anchor="middle" stroke="#111" stroke-width="0.25">84</text>
<text x="507.5" y="366" font-size="6.6" text-anchor="middle" stroke="#111" stroke-width="0.25">96</text>
<text x="374.2" y="210.7" font-size="8.6" font-weight="bold" font-style="italic" fill="#1a1a1a" textLength="17" lengthAdjust="spacingAndGlyphs">Per2</text>
<text x="259.3" y="291.2" font-size="6" text-anchor="middle" textLength="33.5" lengthAdjust="spacingAndGlyphs" transform="rotate(-90 259.3 291.2)" stroke="#111" stroke-width="0.25">Per2/β–actin</text>
<path d="M280.25 246.25V273.75M277.65 246.25h5.2M277.65 273.75h5.2" stroke="#111" stroke-width="1.15" fill="none"/>
<circle cx="280.25" cy="260" r="1.45" fill="#111"/>
<path d="M280.25 248V271.5M277.65 248h5.2M277.65 271.5h5.2" stroke="#111" stroke-width="1.15" fill="none"/>
<circle cx="280.25" cy="260" r="1.45" fill="#111"/>
<path d="M288.25 313V318M285.65 313h5.2M285.65 318h5.2" stroke="#111" stroke-width="1.15" fill="none"/>
<circle cx="288.25" cy="315.5" r="1.45" fill="#111"/>
<path d="M296.25 318V321M293.65 318h5.2M293.65 321h5.2" stroke="#111" stroke-width="1.15" fill="none"/>
<circle cx="296.25" cy="319.5" r="1.45" fill="#111"/>
<path d="M305 305.5V316.25M302.4 305.5h5.2M302.4 316.25h5.2" stroke="#111" stroke-width="1.15" fill="none"/>
<circle cx="305" cy="311.25" r="1.45" fill="#111"/>
<circle cx="305" cy="318.75" r="1.45" fill="#111"/>
<path d="M313.25 314.5V320M310.65 314.5h5.2M310.65 320h5.2" stroke="#111" stroke-width="1.15" fill="none"/>
<circle cx="313.25" cy="317" r="1.45" fill="#111"/>
<path d="M321.25 313.5V320M318.65 313.5h5.2M318.65 320h5.2" stroke="#111" stroke-width="1.15" fill="none"/>
<circle cx="321.25" cy="317" r="1.45" fill="#111"/>
<path d="M329.5 315.5V320M326.9 315.5h5.2M326.9 320h5.2" stroke="#111" stroke-width="1.15" fill="none"/>
<circle cx="329.5" cy="317.5" r="1.45" fill="#111"/>
<path d="M338 317.5V320M335.4 317.5h5.2M335.4 320h5.2" stroke="#111" stroke-width="1.15" fill="none"/>
<circle cx="338" cy="318.75" r="1.45" fill="#111"/>
<path d="M346.25 316.5V319.5M343.65 316.5h5.2M343.65 319.5h5.2" stroke="#111" stroke-width="1.15" fill="none"/>
<circle cx="346.25" cy="318" r="1.45" fill="#111"/>
<path d="M354.5 317V327M351.9 317h5.2M351.9 327h5.2" stroke="#111" stroke-width="1.15" fill="none"/>
<circle cx="354.5" cy="322.5" r="1.45" fill="#111"/>
<rect x="360.7" y="318.35" width="4.6" height="1.8" fill="#111"/>
<circle cx="363" cy="313" r="1.45" fill="#111"/>
<path d="M370.5 320V324.5M367.9 320h5.2M367.9 324.5h5.2" stroke="#111" stroke-width="1.15" fill="none"/>
<circle cx="370.5" cy="322" r="1.45" fill="#111"/>
<circle cx="378.75" cy="305" r="1.45" fill="#111"/>
<rect x="376.45" y="318.35" width="4.6" height="1.8" fill="#111"/>
<path d="M387 313V316M384.4 313h5.2M384.4 316h5.2" stroke="#111" stroke-width="1.15" fill="none"/>
<circle cx="387" cy="314.5" r="1.45" fill="#111"/>
<rect x="393.95" y="317.85" width="4.6" height="1.8" fill="#111"/>
<path d="M403.75 316.5V319.5M401.15 316.5h5.2M401.15 319.5h5.2" stroke="#111" stroke-width="1.15" fill="none"/>
<circle cx="403.75" cy="318" r="1.45" fill="#111"/>
<rect x="410.2" y="318.35" width="4.6" height="1.8" fill="#111"/>
<rect x="418.95" y="319.1" width="4.6" height="1.8" fill="#111"/>
<rect x="426.45" y="317.85" width="4.6" height="1.8" fill="#111"/>
<rect x="434.7" y="316.6" width="4.6" height="1.8" fill="#111"/>
<path d="M445.5 318.75V325.5M442.9 318.75h5.2M442.9 325.5h5.2" stroke="#111" stroke-width="1.15" fill="none"/>
<circle cx="445.5" cy="322" r="1.45" fill="#111"/>
<circle cx="453" cy="319.25" r="1.45" fill="#111"/>
<path d="M461.25 310.5V314.25M458.65 310.5h5.2M458.65 314.25h5.2" stroke="#111" stroke-width="1.15" fill="none"/>
<circle cx="461.25" cy="312" r="1.45" fill="#111"/>
<rect x="458.95" y="319.1" width="4.6" height="1.8" fill="#111"/>
<path d="M469.5 295.5V300.5M466.9 295.5h5.2M466.9 300.5h5.2" stroke="#111" stroke-width="1.15" fill="none"/>
<circle cx="469.5" cy="298.75" r="1.45" fill="#111"/>
<rect x="467.2" y="312.35" width="4.6" height="1.8" fill="#111"/>
<rect x="475.7" y="315.35" width="4.6" height="1.8" fill="#111"/>
<path d="M30.5,476.86 L31.5,476.38 L32.5,476 L33.5,475.72 L34.5,475.56 L35.5,475.5 L36.5,475.56 L37.5,475.72 L38.5,476 L39.5,476.38 L40.5,476.86 L41.5,477.44 L42.5,478.11 L43.5,478.85 L44.5,479.66 L45.5,480.54 L46.5,481.46 L47.5,482.42 L48.5,483.4 L49.5,484.4 L50.5,485.4 L51.5,486.38 L52.5,487.34 L53.5,488.26 L54.5,489.14 L55.5,489.95 L56.5,490.69 L57.5,491.36 L58.5,491.94 L59.5,492.42 L60.5,492.8 L61.5,493.08 L62.5,493.24 L63.5,493.3 L64.5,493.24 L65.5,493.08 L66.5,492.8 L67.5,492.42 L68.5,491.94 L69.5,491.36 L70.5,490.69 L71.5,489.95 L72.5,489.14 L73.5,488.26 L74.5,487.34 L75.5,486.38 L76.5,485.4 L77.5,484.4 L78.5,483.4 L79.5,482.42 L80.5,481.46 L81.5,480.54 L82.5,479.66 L83.5,478.85 L84.5,478.11 L85.5,477.44 L86.5,476.86 L87.5,476.38 L88.5,476 L89.5,475.72 L90.5,475.56 L91.5,475.5 L92.5,475.56 L93.5,475.72 L94.5,476 L95.5,476.38 L96.5,476.86 L97.5,477.44 L98.5,478.11 L99.5,478.85 L100.5,479.66 L101.5,480.54 L102.5,481.46 L103.5,482.42 L104.5,483.4 L105.5,484.4 L106.5,485.4 L107.5,486.38 L108.5,487.34 L109.5,488.26 L110.5,489.14 L111.5,489.95 L112.5,490.69 L113.5,491.36 L114.5,491.94 L115.5,492.42 L116.5,492.8 L117.5,493.08 L118.5,493.24 L119.5,493.3 L120.5,493.24 L121.5,493.08 L122.5,492.8 L123.5,492.42 L124.5,491.94 L125.5,491.36 L126.5,490.69 L127.5,489.95 L128.5,489.14 L129.5,488.26 L130.5,487.34 L131.5,486.38 L132.5,485.4 L133.5,484.4 L134.5,483.4 L135.5,482.42 L136.5,481.46 L137.5,480.54 L138.5,479.66 L139.5,478.85 L140.5,478.11 L141.5,477.44 L142.5,476.86 L143.5,476.38 L144.5,476 L145.5,475.72 L146.5,475.56 L147.5,475.5 L148.5,475.56 L149.5,475.72 L150.5,476 L151.5,476.38 L152.5,476.86 L153.5,477.44 L154.5,478.11 L155.5,478.85 L156.5,479.66 L157.5,480.54 L158.5,481.46 L159.5,482.42 L160.5,483.4 L161.5,484.4 L162.5,485.4 L163.5,486.38 L164.5,487.34 L165.5,488.26 L166.5,489.14 L167.5,489.95 L168.5,490.69 L169.5,491.36 L170.5,491.94 L171.5,492.42 L172.5,492.8 L173.5,493.08 L174.5,493.24 L175.5,493.3 L176.5,493.24 L177.5,493.08 L178.5,492.8 L179.5,492.42 L180.5,491.94 L181.5,491.36 L182.5,490.69 L183.5,489.95 L184.5,489.14 L185.5,488.26 L186.5,487.34 L187.5,486.38 L188.5,485.4 L189.5,484.4 L190.5,483.4 L191.5,482.42 L192.5,481.46 L193.5,480.54 L194.5,479.66 L195.5,478.85 L196.5,478.11 L197.5,477.44 L198.5,476.86 L199.5,476.38 L200.5,476 L201.5,475.72 L202.5,475.56 L203.5,475.5 L204.5,475.56 L205.5,475.72 L206.5,476 L207.5,476.38 L208.5,476.86 L209.5,477.44 L210.5,478.11 L211.5,478.85 L212.5,479.66 L213.5,480.54 L214.5,481.46 L215.5,482.42 L216.5,483.4 L217.5,484.4 L218.5,485.4 L219.5,486.38 L220.5,487.34 L221.5,488.26 L222.5,489.14 L223.5,489.95 L224.5,490.69 L225.5,491.36 L226.5,491.94 L227.5,492.42 L228.5,492.8 L229.5,493.08 L230.5,493.24 L231.5,493.3 L232.5,493.24 L233.5,493.08 L234.5,492.8 L235.5,492.42 L236.5,491.94 L237.5,491.36 L238.5,490.69 L239.5,489.95 L240.5,489.14 L241.5,488.26 L242.5,487.34 L243.5,486.38 L244.5,485.4 L245.5,484.4 L246.5,483.4 L247.5,482.42 L248.5,481.46 L249.5,480.54 L250.5,479.66 L251.5,478.85 L252.5,478.11 L253.5,477.44 L254.5,476.86 L255.5,476.38 L256.5,476" fill="none" stroke="#262626" stroke-width="1.15"/>
<path d="M30.25,485.85 L31.25,485.15 L32.25,484.45 L33.25,483.73 L34.25,483.02 L35.25,482.32 L36.25,481.65 L37.25,481 L38.25,480.4 L39.25,479.84 L40.25,479.34 L41.25,478.9 L42.25,478.53 L43.25,478.23 L44.25,478.01 L45.25,477.86 L46.25,477.8 L47.25,477.82 L48.25,477.93 L49.25,478.11 L50.25,478.37 L51.25,478.71 L52.25,479.11 L53.25,479.58 L54.25,480.11 L55.25,480.7 L56.25,481.32 L57.25,481.98 L58.25,482.67 L59.25,483.38 L60.25,484.09 L61.25,484.8 L62.25,485.5 L63.25,486.19 L64.25,486.84 L65.25,487.45 L66.25,488.02 L67.25,488.54 L68.25,488.99 L69.25,489.38 L70.25,489.7 L71.25,489.94 L72.25,490.11 L73.25,490.19 L74.25,490.19 L75.25,490.11 L76.25,489.94 L77.25,489.7 L78.25,489.38 L79.25,488.99 L80.25,488.54 L81.25,488.02 L82.25,487.45 L83.25,486.84 L84.25,486.19 L85.25,485.5 L86.25,484.8 L87.25,484.09 L88.25,483.38 L89.25,482.67 L90.25,481.98 L91.25,481.32 L92.25,480.7 L93.25,480.11 L94.25,479.58 L95.25,479.11 L96.25,478.71 L97.25,478.37 L98.25,478.11 L99.25,477.93 L100.25,477.82 L101.25,477.8 L102.25,477.86 L103.25,478.01 L104.25,478.23 L105.25,478.53 L106.25,478.9 L107.25,479.34 L108.25,479.84 L109.25,480.4 L110.25,481 L111.25,481.65 L112.25,482.32 L113.25,483.02 L114.25,483.73 L115.25,484.45 L116.25,485.15 L117.25,485.85 L118.25,486.52 L119.25,487.15 L120.25,487.74 L121.25,488.29 L122.25,488.77 L123.25,489.2 L124.25,489.55 L125.25,489.83 L126.25,490.04 L127.25,490.16 L128.25,490.2 L129.25,490.16 L130.25,490.04 L131.25,489.83 L132.25,489.55 L133.25,489.2 L134.25,488.77 L135.25,488.29 L136.25,487.74 L137.25,487.15 L138.25,486.52 L139.25,485.85 L140.25,485.15 L141.25,484.45 L142.25,483.73 L143.25,483.02 L144.25,482.32 L145.25,481.65 L146.25,481 L147.25,480.4 L148.25,479.84 L149.25,479.34 L150.25,478.9 L151.25,478.53 L152.25,478.23 L153.25,478.01 L154.25,477.86 L155.25,477.8 L156.25,477.82 L157.25,477.93 L158.25,478.11 L159.25,478.37 L160.25,478.71 L161.25,479.11 L162.25,479.58 L163.25,480.11 L164.25,480.7 L165.25,481.32 L166.25,481.98 L167.25,482.67 L168.25,483.38 L169.25,484.09 L170.25,484.8 L171.25,485.5 L172.25,486.19 L173.25,486.84 L174.25,487.45 L175.25,488.02 L176.25,488.54 L177.25,488.99 L178.25,489.38 L179.25,489.7 L180.25,489.94 L181.25,490.11 L182.25,490.19 L183.25,490.19 L184.25,490.11 L185.25,489.94 L186.25,489.7 L187.25,489.38 L188.25,488.99 L189.25,488.54 L190.25,488.02 L191.25,487.45 L192.25,486.84 L193.25,486.19 L194.25,485.5 L195.25,484.8 L196.25,484.09 L197.25,483.38 L198.25,482.67 L199.25,481.98 L200.25,481.32 L201.25,480.7 L202.25,480.11 L203.25,479.58 L204.25,479.11 L205.25,478.71 L206.25,478.37 L207.25,478.11 L208.25,477.93 L209.25,477.82 L210.25,477.8 L211.25,477.86 L212.25,478.01 L213.25,478.23 L214.25,478.53 L215.25,478.9 L216.25,479.34 L217.25,479.84 L218.25,480.4 L219.25,481 L220.25,481.65 L221.25,482.32 L222.25,483.02 L223.25,483.73 L224.25,484.45 L225.25,485.15 L226.25,485.85 L227.25,486.52 L228.25,487.15 L229.25,487.74 L230.25,488.29 L231.25,488.77 L232.25,489.2 L233.25,489.55 L234.25,489.83 L235.25,490.04 L236.25,490.16 L237.25,490.2 L238.25,490.16 L239.25,490.04 L240.25,489.83 L241.25,489.55 L242.25,489.2 L243.25,488.77 L244.25,488.29 L245.25,487.74 L246.25,487.15 L247.25,486.52 L248.25,485.85 L249.25,485.15 L250.25,484.45 L251.25,483.73 L252.25,483.02 L253.25,482.32 L254.25,481.65 L255.25,481 L256.25,480.4" fill="none" stroke="#c2444e" stroke-width="1.05"/>
<line x1="30.5" y1="384.5" x2="30.5" y2="527.5" stroke="#1c1c1c" stroke-width="1"/>
<line x1="28" y1="384.3" x2="30.5" y2="384.3" stroke="#1c1c1c" stroke-width="1"/>
<text x="25.5" y="386.58" font-size="6" text-anchor="end" stroke="#111" stroke-width="0.28">2.0</text>
<line x1="28" y1="412.95" x2="30.5" y2="412.95" stroke="#1c1c1c" stroke-width="1"/>
<text x="25.5" y="415.23" font-size="6" text-anchor="end" stroke="#111" stroke-width="0.28">1.5</text>
<line x1="28" y1="441.6" x2="30.5" y2="441.6" stroke="#1c1c1c" stroke-width="1"/>
<text x="25.5" y="443.88" font-size="6" text-anchor="end" stroke="#111" stroke-width="0.28">1.0</text>
<line x1="28" y1="470.25" x2="30.5" y2="470.25" stroke="#1c1c1c" stroke-width="1"/>
<text x="25.5" y="472.53" font-size="6" text-anchor="end" stroke="#111" stroke-width="0.28">0.5</text>
<line x1="28" y1="498.9" x2="30.5" y2="498.9" stroke="#1c1c1c" stroke-width="1"/>
<text x="25.5" y="501.18" font-size="6" text-anchor="end" stroke="#111" stroke-width="0.28">0.0</text>
<line x1="28" y1="527.55" x2="30.5" y2="527.55" stroke="#1c1c1c" stroke-width="1"/>
<text x="25.5" y="529.83" font-size="6" text-anchor="end" stroke="#111" stroke-width="0.28">-0.5</text>
<rect x="30.1" y="527.5" width="226.4" height="6.7" fill="#0a0a0a"/>
<rect x="31.3" y="529" width="26" height="3.7" fill="#fff"/>
<rect x="87.8" y="529" width="25.95" height="3.7" fill="#fff"/>
<rect x="144.5" y="529" width="26" height="3.7" fill="#fff"/>
<rect x="201" y="529" width="25.9" height="3.7" fill="#fff"/>
<text x="30.1" y="541.4" font-size="6.6" text-anchor="middle" stroke="#111" stroke-width="0.25">0</text>
<text x="56" y="541.4" font-size="6.6" text-anchor="middle" stroke="#111" stroke-width="0.25">12</text>
<text x="86.1" y="541.4" font-size="6.6" text-anchor="middle" stroke="#111" stroke-width="0.25">24</text>
<text x="113.75" y="541.4" font-size="6.6" text-anchor="middle" stroke="#111" stroke-width="0.25">36</text>
<text x="145" y="541.4" font-size="6.6" text-anchor="middle" stroke="#111" stroke-width="0.25">48</text>
<text x="172.9" y="541.4" font-size="6.6" text-anchor="middle" stroke="#111" stroke-width="0.25">60</text>
<text x="200.5" y="541.4" font-size="6.6" text-anchor="middle" stroke="#111" stroke-width="0.25">72</text>
<text x="228.1" y="541.4" font-size="6.6" text-anchor="middle" stroke="#111" stroke-width="0.25">84</text>
<text x="257" y="541.4" font-size="6.6" text-anchor="middle" stroke="#111" stroke-width="0.25">96</text>
<text x="136.1" y="396.5" font-size="8.6" font-weight="bold" font-style="italic" fill="#1a1a1a" textLength="18" lengthAdjust="spacingAndGlyphs">Cry1</text>
<text x="6.9" y="456.2" font-size="6.4" text-anchor="middle" textLength="37" lengthAdjust="spacingAndGlyphs" transform="rotate(-90 6.9 456.2)" stroke="#111" stroke-width="0.25">Cry1/β–actin</text>
<path d="M30.25 395.5V423M27.65 395.5h5.2M27.65 423h5.2" stroke="#111" stroke-width="1.15" fill="none"/>
<circle cx="30.25" cy="409.25" r="1.45" fill="#111"/>
<path d="M30.25 420.75V462M27.65 420.75h5.2M27.65 462h5.2" stroke="#111" stroke-width="1.15" fill="none"/>
<circle cx="30.25" cy="441.75" r="1.45" fill="#111"/>
<path d="M39.25 441.25V452.5M36.65 441.25h5.2M36.65 452.5h5.2" stroke="#111" stroke-width="1.15" fill="none"/>
<circle cx="39.25" cy="447" r="1.45" fill="#111"/>
<path d="M49.25 456.25V477M46.65 456.25h5.2M46.65 477h5.2" stroke="#111" stroke-width="1.15" fill="none"/>
<circle cx="49.25" cy="466.25" r="1.45" fill="#111"/>
<path d="M49.25 473V476M46.65 473h5.2M46.65 476h5.2" stroke="#111" stroke-width="1.15" fill="none"/>
<circle cx="49.25" cy="474.5" r="1.45" fill="#111"/>
<path d="M58.25 475.5V488.75M55.65 475.5h5.2M55.65 488.75h5.2" stroke="#111" stroke-width="1.15" fill="none"/>
<circle cx="58.25" cy="482.5" r="1.45" fill="#111"/>
<path d="M58.25 482.5V485M55.65 482.5h5.2M55.65 485h5.2" stroke="#111" stroke-width="1.15" fill="none"/>
<circle cx="58.25" cy="483.75" r="1.45" fill="#111"/>
<path d="M67.5 480.5V495.5M64.9 480.5h5.2M64.9 495.5h5.2" stroke="#111" stroke-width="1.15" fill="none"/>
<circle cx="67.5" cy="489.5" r="1.45" fill="#111"/>
<path d="M77 483.25V486.25M74.4 483.25h5.2M74.4 486.25h5.2" stroke="#111" stroke-width="1.15" fill="none"/>
<circle cx="77" cy="484.5" r="1.45" fill="#111"/>
<path d="M77 487.5V495.5M74.4 487.5h5.2M74.4 495.5h5.2" stroke="#111" stroke-width="1.15" fill="none"/>
<circle cx="77" cy="491.25" r="1.45" fill="#111"/>
<path d="M86.25 482.5V485M83.65 482.5h5.2M83.65 485h5.2" stroke="#111" stroke-width="1.15" fill="none"/>
<circle cx="86.25" cy="483.75" r="1.45" fill="#111"/>
<circle cx="86.25" cy="492.5" r="1.45" fill="#111"/>
<path d="M95.5 488.75V496.25M92.9 488.75h5.2M92.9 496.25h5.2" stroke="#111" stroke-width="1.15" fill="none"/>
<circle cx="95.5" cy="492.5" r="1.45" fill="#111"/>
<path d="M95.5 489.5V491.5M92.9 489.5h5.2M92.9 491.5h5.2" stroke="#111" stroke-width="1.15" fill="none"/>
<circle cx="95.5" cy="490.5" r="1.45" fill="#111"/>
<path d="M105 484.5V488.75M102.4 484.5h5.2M102.4 488.75h5.2" stroke="#111" stroke-width="1.15" fill="none"/>
<circle cx="105" cy="486.25" r="1.45" fill="#111"/>
<path d="M114.5 487V493.75M111.9 487h5.2M111.9 493.75h5.2" stroke="#111" stroke-width="1.15" fill="none"/>
<circle cx="114.5" cy="490.75" r="1.45" fill="#111"/>
<path d="M123.75 491V494M121.15 491h5.2M121.15 494h5.2" stroke="#111" stroke-width="1.15" fill="none"/>
<circle cx="123.75" cy="492.5" r="1.45" fill="#111"/>
<path d="M133 489.5V492.5M130.4 489.5h5.2M130.4 492.5h5.2" stroke="#111" stroke-width="1.15" fill="none"/>
<circle cx="133" cy="491" r="1.45" fill="#111"/>
<path d="M142.3 486.2V494.5M139.7 486.2h5.2M139.7 494.5h5.2" stroke="#111" stroke-width="1.15" fill="none"/>
<circle cx="142.3" cy="488" r="1.45" fill="#111"/>
<path d="M152.7 485.5V488.5M150.1 485.5h5.2M150.1 488.5h5.2" stroke="#111" stroke-width="1.15" fill="none"/>
<circle cx="152.7" cy="486.9" r="1.45" fill="#111"/>
<path d="M161.2 488V495M158.6 488h5.2M158.6 495h5.2" stroke="#111" stroke-width="1.15" fill="none"/>
<circle cx="161.2" cy="490.8" r="1.45" fill="#111"/>
<path d="M171.2 492V494.5M168.6 492h5.2M168.6 494.5h5.2" stroke="#111" stroke-width="1.15" fill="none"/>
<circle cx="171.2" cy="493.2" r="1.45" fill="#111"/>
<path d="M180.4 492V494.5M177.8 492h5.2M177.8 494.5h5.2" stroke="#111" stroke-width="1.15" fill="none"/>
<circle cx="180.4" cy="493.2" r="1.45" fill="#111"/>
<path d="M189.6 492.5V495M187 492.5h5.2M187 495h5.2" stroke="#111" stroke-width="1.15" fill="none"/>
<circle cx="189.6" cy="493.8" r="1.45" fill="#111"/>
<rect x="196.5" y="492.9" width="4.6" height="1.8" fill="#111"/>
<path d="M208 490.8V495.7M205.4 490.8h5.2M205.4 495.7h5.2" stroke="#111" stroke-width="1.15" fill="none"/>
<circle cx="208" cy="492.2" r="1.45" fill="#111"/>
<path d="M218.5 449.9V475M215.9 449.9h5.2M215.9 475h5.2" stroke="#111" stroke-width="1.15" fill="none"/>
<circle cx="218.5" cy="462" r="1.45" fill="#111"/>
<rect x="216.2" y="491.8" width="4.6" height="1.8" fill="#111"/>
<path d="M227.2 491.5V496M224.6 491.5h5.2M224.6 496h5.2" stroke="#111" stroke-width="1.15" fill="none"/>
<circle cx="227.2" cy="493.8" r="1.45" fill="#111"/>
<path d="M236.5 485.3V492.2M233.9 485.3h5.2M233.9 492.2h5.2" stroke="#111" stroke-width="1.15" fill="none"/>
<circle cx="236.5" cy="489.9" r="1.45" fill="#111"/>
<circle cx="236.5" cy="492.2" r="1.45" fill="#111"/>
<path d="M245.7 477.5V480M243.1 477.5h5.2M243.1 480h5.2" stroke="#111" stroke-width="1.15" fill="none"/>
<circle cx="245.7" cy="478.8" r="1.45" fill="#111"/>
<rect x="243.4" y="496.4" width="4.6" height="1.8" fill="#111"/>
<path d="M255.4 482.3V491.5M252.8 482.3h5.2M252.8 491.5h5.2" stroke="#111" stroke-width="1.15" fill="none"/>
<circle cx="255.4" cy="486.9" r="1.45" fill="#111"/>
<path d="M288.5,492.02 L289.5,491.67 L290.5,491.3 L291.5,490.95 L292.5,490.59 L293.5,490.25 L294.5,489.93 L295.5,489.62 L296.5,489.35 L297.5,489.1 L298.5,488.89 L299.5,488.72 L300.5,488.59 L301.5,488.5 L302.5,488.46 L303.5,488.46 L304.5,488.5 L305.5,488.59 L306.5,488.72 L307.5,488.89 L308.5,489.1 L309.5,489.35 L310.5,489.62 L311.5,489.93 L312.5,490.25 L313.5,490.59 L314.5,490.95 L315.5,491.3 L316.5,491.67 L317.5,492.02 L318.5,492.37 L319.5,492.69 L320.5,493 L321.5,493.29 L322.5,493.54 L323.5,493.76 L324.5,493.94 L325.5,494.08 L326.5,494.18 L327.5,494.24 L328.5,494.25 L329.5,494.21 L330.5,494.14 L331.5,494.02 L332.5,493.85 L333.5,493.65 L334.5,493.42 L335.5,493.15 L336.5,492.85 L337.5,492.53 L338.5,492.19 L339.5,491.84 L340.5,491.49 L341.5,491.12 L342.5,490.77 L343.5,490.42 L344.5,490.09 L345.5,489.77 L346.5,489.48 L347.5,489.22 L348.5,488.99 L349.5,488.8 L350.5,488.65 L351.5,488.54 L352.5,488.47 L353.5,488.45 L354.5,488.47 L355.5,488.54 L356.5,488.65 L357.5,488.8 L358.5,488.99 L359.5,489.22 L360.5,489.48 L361.5,489.77 L362.5,490.09 L363.5,490.42 L364.5,490.77 L365.5,491.12 L366.5,491.49 L367.5,491.84 L368.5,492.19 L369.5,492.53 L370.5,492.85 L371.5,493.15 L372.5,493.42 L373.5,493.65 L374.5,493.85 L375.5,494.02 L376.5,494.14 L377.5,494.21 L378.5,494.25 L379.5,494.24 L380.5,494.18 L381.5,494.08 L382.5,493.94 L383.5,493.76 L384.5,493.54 L385.5,493.29 L386.5,493 L387.5,492.69 L388.5,492.37 L389.5,492.02 L390.5,491.67 L391.5,491.3 L392.5,490.95 L393.5,490.59 L394.5,490.25 L395.5,489.93 L396.5,489.62 L397.5,489.35 L398.5,489.1 L399.5,488.89 L400.5,488.72 L401.5,488.59 L402.5,488.5 L403.5,488.46 L404.5,488.46 L405.5,488.5 L406.5,488.59 L407.5,488.72 L408.5,488.89 L409.5,489.1 L410.5,489.35 L411.5,489.62 L412.5,489.93 L413.5,490.25 L414.5,490.59 L415.5,490.95 L416.5,491.3 L417.5,491.67 L418.5,492.02 L419.5,492.37 L420.5,492.69 L421.5,493 L422.5,493.29 L423.5,493.54 L424.5,493.76 L425.5,493.94 L426.5,494.08 L427.5,494.18 L428.5,494.24 L429.5,494.25 L430.5,494.21 L431.5,494.14 L432.5,494.02 L433.5,493.85 L434.5,493.65 L435.5,493.42 L436.5,493.15 L437.5,492.85 L438.5,492.53 L439.5,492.19 L440.5,491.84 L441.5,491.49 L442.5,491.12 L443.5,490.77 L444.5,490.42 L445.5,490.09 L446.5,489.77 L447.5,489.48 L448.5,489.22 L449.5,488.99 L450.5,488.8 L451.5,488.65 L452.5,488.54 L453.5,488.47 L454.5,488.45 L455.5,488.47 L456.5,488.54 L457.5,488.65 L458.5,488.8 L459.5,488.99 L460.5,489.22 L461.5,489.48 L462.5,489.77 L463.5,490.09 L464.5,490.42 L465.5,490.77 L466.5,491.12 L467.5,491.49 L468.5,491.84 L469.5,492.19 L470.5,492.53 L471.5,492.85 L472.5,493.15 L473.5,493.42 L474.5,493.65 L475.5,493.85 L476.5,494.02 L477.5,494.14 L478.5,494.21 L479.5,494.25 L480.5,494.24 L481.5,494.18 L482.5,494.08 L483.5,493.94 L484.5,493.76 L485.5,493.54 L486.5,493.29 L487.5,493 L488.5,492.69 L489.5,492.37 L490.5,492.02 L491.5,491.67 L492.5,491.3 L493.5,490.95 L494.5,490.59 L495.5,490.25 L496.5,489.93 L497.5,489.62 L498.5,489.35 L499.5,489.1 L500.5,488.89 L501.5,488.72 L502.5,488.59" fill="none" stroke="#262626" stroke-width="1.15"/>
<path d="M288.5,477.31 L289.5,475.98 L290.5,474.63 L291.5,473.28 L292.5,471.96 L293.5,470.67 L294.5,469.45 L295.5,468.3 L296.5,467.24 L297.5,466.29 L298.5,465.46 L299.5,464.77 L300.5,464.22 L301.5,463.82 L302.5,463.58 L303.5,463.5 L304.5,463.58 L305.5,463.82 L306.5,464.22 L307.5,464.77 L308.5,465.46 L309.5,466.29 L310.5,467.24 L311.5,468.3 L312.5,469.45 L313.5,470.67 L314.5,471.96 L315.5,473.28 L316.5,474.63 L317.5,475.98 L318.5,477.31 L319.5,478.61 L320.5,479.85 L321.5,481.03 L322.5,482.11 L323.5,483.08 L324.5,483.94 L325.5,484.67 L326.5,485.26 L327.5,485.69 L328.5,485.97 L329.5,486.09 L330.5,486.05 L331.5,485.85 L332.5,485.49 L333.5,484.98 L334.5,484.32 L335.5,483.53 L336.5,482.61 L337.5,481.58 L338.5,480.45 L339.5,479.24 L340.5,477.97 L341.5,476.65 L342.5,475.31 L343.5,473.96 L344.5,472.62 L345.5,471.31 L346.5,470.05 L347.5,468.86 L348.5,467.75 L349.5,466.75 L350.5,465.86 L351.5,465.1 L352.5,464.48 L353.5,464 L354.5,463.68 L355.5,463.52 L356.5,463.52 L357.5,463.68 L358.5,464 L359.5,464.48 L360.5,465.1 L361.5,465.86 L362.5,466.75 L363.5,467.75 L364.5,468.86 L365.5,470.05 L366.5,471.31 L367.5,472.62 L368.5,473.96 L369.5,475.31 L370.5,476.65 L371.5,477.97 L372.5,479.24 L373.5,480.45 L374.5,481.58 L375.5,482.61 L376.5,483.53 L377.5,484.32 L378.5,484.98 L379.5,485.49 L380.5,485.85 L381.5,486.05 L382.5,486.09 L383.5,485.97 L384.5,485.69 L385.5,485.26 L386.5,484.67 L387.5,483.94 L388.5,483.08 L389.5,482.11 L390.5,481.03 L391.5,479.85 L392.5,478.61 L393.5,477.31 L394.5,475.98 L395.5,474.63 L396.5,473.28 L397.5,471.96 L398.5,470.67 L399.5,469.45 L400.5,468.3 L401.5,467.24 L402.5,466.29 L403.5,465.46 L404.5,464.77 L405.5,464.22 L406.5,463.82 L407.5,463.58 L408.5,463.5 L409.5,463.58 L410.5,463.82 L411.5,464.22 L412.5,464.77 L413.5,465.46 L414.5,466.29 L415.5,467.24 L416.5,468.3 L417.5,469.45 L418.5,470.67 L419.5,471.96 L420.5,473.28 L421.5,474.63 L422.5,475.98 L423.5,477.31 L424.5,478.61 L425.5,479.85 L426.5,481.03 L427.5,482.11 L428.5,483.08 L429.5,483.94 L430.5,484.67 L431.5,485.26 L432.5,485.69 L433.5,485.97 L434.5,486.09 L435.5,486.05 L436.5,485.85 L437.5,485.49 L438.5,484.98 L439.5,484.32 L440.5,483.53 L441.5,482.61 L442.5,481.58 L443.5,480.45 L444.5,479.24 L445.5,477.97 L446.5,476.65 L447.5,475.31 L448.5,473.96 L449.5,472.62 L450.5,471.31 L451.5,470.05 L452.5,468.86 L453.5,467.75 L454.5,466.75 L455.5,465.86 L456.5,465.1 L457.5,464.48 L458.5,464 L459.5,463.68 L460.5,463.52 L461.5,463.52 L462.5,463.68 L463.5,464 L464.5,464.48 L465.5,465.1 L466.5,465.86 L467.5,466.75 L468.5,467.75 L469.5,468.86 L470.5,470.05 L471.5,471.31 L472.5,472.62 L473.5,473.96 L474.5,475.31 L475.5,476.65 L476.5,477.97 L477.5,479.24 L478.5,480.45 L479.5,481.58 L480.5,482.61 L481.5,483.53 L482.5,484.32 L483.5,484.98 L484.5,485.49 L485.5,485.85 L486.5,486.05 L487.5,486.09 L488.5,485.97 L489.5,485.69 L490.5,485.26 L491.5,484.67 L492.5,483.94 L493.5,483.08 L494.5,482.11 L495.5,481.03 L496.5,479.85 L497.5,478.61 L498.5,477.31 L499.5,475.98 L500.5,474.63 L501.5,473.28 L502.5,471.96" fill="none" stroke="#c2444e" stroke-width="1.05"/>
<line x1="288.5" y1="396" x2="288.5" y2="526.5" stroke="#1c1c1c" stroke-width="1"/>
<line x1="286" y1="395.8" x2="288.5" y2="395.8" stroke="#1c1c1c" stroke-width="1"/>
<text x="283.5" y="398" font-size="5.8" text-anchor="end" stroke="#111" stroke-width="0.28">2.0</text>
<line x1="286" y1="422.1" x2="288.5" y2="422.1" stroke="#1c1c1c" stroke-width="1"/>
<text x="283.5" y="424.3" font-size="5.8" text-anchor="end" stroke="#111" stroke-width="0.28">1.5</text>
<line x1="286" y1="448.4" x2="288.5" y2="448.4" stroke="#1c1c1c" stroke-width="1"/>
<text x="283.5" y="450.6" font-size="5.8" text-anchor="end" stroke="#111" stroke-width="0.28">1.0</text>
<line x1="286" y1="474.7" x2="288.5" y2="474.7" stroke="#1c1c1c" stroke-width="1"/>
<text x="283.5" y="476.9" font-size="5.8" text-anchor="end" stroke="#111" stroke-width="0.28">0.5</text>
<line x1="286" y1="501" x2="288.5" y2="501" stroke="#1c1c1c" stroke-width="1"/>
<text x="283.5" y="503.2" font-size="5.8" text-anchor="end" stroke="#111" stroke-width="0.28">0.0</text>
<line x1="286" y1="527.3" x2="288.5" y2="527.3" stroke="#1c1c1c" stroke-width="1"/>
<text x="283.5" y="529.5" font-size="5.8" text-anchor="end" stroke="#111" stroke-width="0.28">-0.5</text>
<rect x="288" y="526.5" width="226.5" height="7" fill="#0a0a0a"/>
<rect x="289.2" y="528" width="26.1" height="4" fill="#fff"/>
<rect x="345.8" y="528" width="26.1" height="4" fill="#fff"/>
<rect x="402.7" y="528" width="25.5" height="4" fill="#fff"/>
<rect x="459.4" y="528" width="25.3" height="4" fill="#fff"/>
<text x="288" y="540.5" font-size="6.6" text-anchor="middle" stroke="#111" stroke-width="0.25">0</text>
<text x="314.6" y="540.5" font-size="6.6" text-anchor="middle" stroke="#111" stroke-width="0.25">12</text>
<text x="345.3" y="540.5" font-size="6.6" text-anchor="middle" stroke="#111" stroke-width="0.25">24</text>
<text x="372.3" y="540.5" font-size="6.6" text-anchor="middle" stroke="#111" stroke-width="0.25">36</text>
<text x="402.2" y="540.5" font-size="6.6" text-anchor="middle" stroke="#111" stroke-width="0.25">48</text>
<text x="430.6" y="540.5" font-size="6.6" text-anchor="middle" stroke="#111" stroke-width="0.25">60</text>
<text x="457.5" y="540.5" font-size="6.6" text-anchor="middle" stroke="#111" stroke-width="0.25">72</text>
<text x="485.6" y="540.5" font-size="6.6" text-anchor="middle" stroke="#111" stroke-width="0.25">84</text>
<text x="514.5" y="540.5" font-size="6.6" text-anchor="middle" stroke="#111" stroke-width="0.25">96</text>
<text x="383.1" y="394.7" font-size="8.6" font-weight="bold" font-style="italic" fill="#1a1a1a" textLength="17.3" lengthAdjust="spacingAndGlyphs">Cry2</text>
<text x="266.3" y="461.2" font-size="5.8" text-anchor="middle" textLength="34.4" lengthAdjust="spacingAndGlyphs" transform="rotate(-90 266.3 461.2)" stroke="#111" stroke-width="0.25">Cry2/β–actin</text>
<path d="M287.5 426.25V470M284.9 426.25h5.2M284.9 470h5.2" stroke="#111" stroke-width="1.15" fill="none"/>
<circle cx="287.5" cy="448.25" r="1.45" fill="#111"/>
<path d="M287.5 438.75V457.5M284.9 438.75h5.2M284.9 457.5h5.2" stroke="#111" stroke-width="1.15" fill="none"/>
<circle cx="287.5" cy="448.25" r="1.45" fill="#111"/>
<path d="M296.6 470V478M294 470h5.2M294 478h5.2" stroke="#111" stroke-width="1.15" fill="none"/>
<circle cx="296.6" cy="473.5" r="1.45" fill="#111"/>
<path d="M305.4 471.2V487.3M302.8 471.2h5.2M302.8 487.3h5.2" stroke="#111" stroke-width="1.15" fill="none"/>
<circle cx="305.4" cy="480.4" r="1.45" fill="#111"/>
<path d="M305.4 488V490.5M302.8 488h5.2M302.8 490.5h5.2" stroke="#111" stroke-width="1.15" fill="none"/>
<circle cx="305.4" cy="489.2" r="1.45" fill="#111"/>
<path d="M314.2 476.9V484.5M311.6 476.9h5.2M311.6 484.5h5.2" stroke="#111" stroke-width="1.15" fill="none"/>
<circle cx="314.2" cy="480.8" r="1.45" fill="#111"/>
<path d="M314.2 490.5V493.3M311.6 490.5h5.2M311.6 493.3h5.2" stroke="#111" stroke-width="1.15" fill="none"/>
<circle cx="314.2" cy="491.9" r="1.45" fill="#111"/>
<path d="M322.6 453.75V473.3M320 453.75h5.2M320 473.3h5.2" stroke="#111" stroke-width="1.15" fill="none"/>
<circle cx="322.6" cy="463.5" r="1.45" fill="#111"/>
<path d="M322.7 493.5V496M320.1 493.5h5.2M320.1 496h5.2" stroke="#111" stroke-width="1.15" fill="none"/>
<circle cx="322.7" cy="494.7" r="1.45" fill="#111"/>
<path d="M331.2 493V495.5M328.6 493h5.2M328.6 495.5h5.2" stroke="#111" stroke-width="1.15" fill="none"/>
<circle cx="331.2" cy="494.2" r="1.45" fill="#111"/>
<path d="M340 471.2V487.3M337.4 471.2h5.2M337.4 487.3h5.2" stroke="#111" stroke-width="1.15" fill="none"/>
<circle cx="340" cy="479.2" r="1.45" fill="#111"/>
<path d="M340 493V495.5M337.4 493h5.2M337.4 495.5h5.2" stroke="#111" stroke-width="1.15" fill="none"/>
<circle cx="340" cy="494.2" r="1.45" fill="#111"/>
<path d="M348.6 459V466M346 459h5.2M346 466h5.2" stroke="#111" stroke-width="1.15" fill="none"/>
<circle cx="348.6" cy="462.3" r="1.45" fill="#111"/>
<path d="M348.5 493.5V496M345.9 493.5h5.2M345.9 496h5.2" stroke="#111" stroke-width="1.15" fill="none"/>
<circle cx="348.5" cy="494.7" r="1.45" fill="#111"/>
<path d="M357.4 455.9V481.8M354.8 455.9h5.2M354.8 481.8h5.2" stroke="#111" stroke-width="1.15" fill="none"/>
<circle cx="357.4" cy="468.3" r="1.45" fill="#111"/>
<path d="M357.3 489.5V492M354.7 489.5h5.2M354.7 492h5.2" stroke="#111" stroke-width="1.15" fill="none"/>
<circle cx="357.3" cy="490.8" r="1.45" fill="#111"/>
<path d="M365.8 425.5V473M363.2 425.5h5.2M363.2 473h5.2" stroke="#111" stroke-width="1.15" fill="none"/>
<circle cx="365.8" cy="449.5" r="1.45" fill="#111"/>
<path d="M365.9 488.5V490.8M363.3 488.5h5.2M363.3 490.8h5.2" stroke="#111" stroke-width="1.15" fill="none"/>
<circle cx="365.9" cy="489.6" r="1.45" fill="#111"/>
<path d="M374.8 465.4V485.5M372.2 465.4h5.2M372.2 485.5h5.2" stroke="#111" stroke-width="1.15" fill="none"/>
<circle cx="374.8" cy="475.2" r="1.45" fill="#111"/>
<path d="M374.6 494.8V497.2M372 494.8h5.2M372 497.2h5.2" stroke="#111" stroke-width="1.15" fill="none"/>
<circle cx="374.6" cy="496" r="1.45" fill="#111"/>
<path d="M383.4 494.2V496.6M380.8 494.2h5.2M380.8 496.6h5.2" stroke="#111" stroke-width="1.15" fill="none"/>
<circle cx="383.4" cy="495.4" r="1.45" fill="#111"/>
<path d="M392 490V496.5M389.4 490h5.2M389.4 496.5h5.2" stroke="#111" stroke-width="1.15" fill="none"/>
<circle cx="392" cy="492.4" r="1.45" fill="#111"/>
<rect x="398.1" y="494.1" width="4.6" height="1.8" fill="#111"/>
<path d="M408.9 495.3V497.7M406.3 495.3h5.2M406.3 497.7h5.2" stroke="#111" stroke-width="1.15" fill="none"/>
<circle cx="408.9" cy="496.5" r="1.45" fill="#111"/>
<path d="M417.7 492.6V497.2M415.1 492.6h5.2M415.1 497.2h5.2" stroke="#111" stroke-width="1.15" fill="none"/>
<circle cx="417.7" cy="495" r="1.45" fill="#111"/>
<path d="M426.5 494.6V497M423.9 494.6h5.2M423.9 497h5.2" stroke="#111" stroke-width="1.15" fill="none"/>
<circle cx="426.5" cy="495.8" r="1.45" fill="#111"/>
<path d="M435 494.2V498.2M432.4 494.2h5.2M432.4 498.2h5.2" stroke="#111" stroke-width="1.15" fill="none"/>
<circle cx="435" cy="495.8" r="1.45" fill="#111"/>
<path d="M443.5 495.3V497.7M440.9 495.3h5.2M440.9 497.7h5.2" stroke="#111" stroke-width="1.15" fill="none"/>
<circle cx="443.5" cy="496.5" r="1.45" fill="#111"/>
<path d="M452.3 485.7V493.5M449.7 485.7h5.2M449.7 493.5h5.2" stroke="#111" stroke-width="1.15" fill="none"/>
<circle cx="452.3" cy="490.8" r="1.45" fill="#111"/>
<rect x="458.8" y="497.3" width="4.6" height="1.8" fill="#111"/>
<path d="M461.3 402.5V447.5M458.7 402.5h5.2M458.7 447.5h5.2" stroke="#111" stroke-width="1.15" fill="none"/>
<circle cx="461.3" cy="424" r="1.45" fill="#111"/>
<path d="M469.6 487.3V494.9M467 487.3h5.2M467 494.9h5.2" stroke="#111" stroke-width="1.15" fill="none"/>
<circle cx="469.6" cy="491.2" r="1.45" fill="#111"/>
<rect x="467.3" y="497.3" width="4.6" height="1.8" fill="#111"/>
<path d="M478.9 478.8V493.5M476.3 478.8h5.2M476.3 493.5h5.2" stroke="#111" stroke-width="1.15" fill="none"/>
<circle cx="478.9" cy="485" r="1.45" fill="#111"/>
<path d="M478.9 493.7V496.1M476.3 493.7h5.2M476.3 496.1h5.2" stroke="#111" stroke-width="1.15" fill="none"/>
<circle cx="478.9" cy="494.9" r="1.45" fill="#111"/>
<path d="M486.9 487.7V490.1M484.3 487.7h5.2M484.3 490.1h5.2" stroke="#111" stroke-width="1.15" fill="none"/>
<circle cx="486.9" cy="488.9" r="1.45" fill="#111"/>
<path d="M496.2 485V495.4M493.6 485h5.2M493.6 495.4h5.2" stroke="#111" stroke-width="1.15" fill="none"/>
<circle cx="496.2" cy="491.9" r="1.45" fill="#111"/>
<circle cx="496.2" cy="494.2" r="1.45" fill="#111"/>
<text x="2.5" y="18.1" font-size="20" font-weight="bold" textLength="14.2" lengthAdjust="spacingAndGlyphs">A</text>
<text x="132.3" y="190.2" font-size="7.9" textLength="15.4" lengthAdjust="spacingAndGlyphs" stroke="#111" stroke-width="0.3">Time</text>
<line x1="84.2" y1="576.2" x2="84.2" y2="869.3" stroke="#0c0c0c" stroke-width="2.8"/>
<line x1="78.6" y1="577" x2="84.2" y2="577" stroke="#0c0c0c" stroke-width="2.3"/>
<text x="64.8" y="581.5" font-size="12.6" text-anchor="end">3</text>
<line x1="78.6" y1="625.55" x2="84.2" y2="625.55" stroke="#0c0c0c" stroke-width="2.3"/>
<text x="64.8" y="630.05" font-size="12.6" text-anchor="end">2.5</text>
<line x1="78.6" y1="674.1" x2="84.2" y2="674.1" stroke="#0c0c0c" stroke-width="2.3"/>
<text x="64.8" y="678.6" font-size="12.6" text-anchor="end">2</text>
<line x1="78.6" y1="722.65" x2="84.2" y2="722.65" stroke="#0c0c0c" stroke-width="2.3"/>
<text x="64.8" y="727.15" font-size="12.6" text-anchor="end">1.5</text>
<line x1="78.6" y1="771.2" x2="84.2" y2="771.2" stroke="#0c0c0c" stroke-width="2.3"/>
<text x="64.8" y="775.7" font-size="12.6" text-anchor="end">1</text>
<line x1="78.6" y1="819.75" x2="84.2" y2="819.75" stroke="#0c0c0c" stroke-width="2.3"/>
<text x="64.8" y="824.25" font-size="12.6" text-anchor="end">0.5</text>
<text x="64.8" y="872.8" font-size="12.6" text-anchor="end">0</text>
<line x1="84.2" y1="868" x2="84.2" y2="873.6" stroke="#0c0c0c" stroke-width="2.4"/>
<line x1="141" y1="868" x2="141" y2="873.6" stroke="#0c0c0c" stroke-width="2.4"/>
<line x1="198.6" y1="868" x2="198.6" y2="873.6" stroke="#0c0c0c" stroke-width="2.4"/>
<line x1="255.5" y1="868" x2="255.5" y2="873.6" stroke="#0c0c0c" stroke-width="2.4"/>
<line x1="312.2" y1="868" x2="312.2" y2="873.6" stroke="#0c0c0c" stroke-width="2.4"/>
<line x1="369.5" y1="868" x2="369.5" y2="873.6" stroke="#0c0c0c" stroke-width="2.4"/>
<line x1="427.3" y1="868" x2="427.3" y2="873.6" stroke="#0c0c0c" stroke-width="2.4"/>
<rect x="113" y="831.3" width="22" height="35.9" fill="#0c0c0c"/>
<path d="M122.5 823.6V831.3M120 824.6h5" stroke="#0c0c0c" stroke-width="2.2" fill="none"/>
<path d="M92.25 867.2V648.05H112.35V867.2" fill="#fff" stroke="#0c0c0c" stroke-width="3.3"/>
<path d="M102.3 626.4V668.7M100.1 627.5h4.4M100.1 667.6h4.4" stroke="#0c0c0c" stroke-width="2.5" fill="none"/>
<text x="112.5" y="892.4" font-size="11.8" text-anchor="middle">Clock</text>
<rect x="168" y="825.8" width="23.8" height="41.4" fill="#0c0c0c"/>
<path d="M180 821.2V825.8M177.5 822.2h5" stroke="#0c0c0c" stroke-width="2.2" fill="none"/>
<path d="M149.65 867.2V739.15H169.95V867.2" fill="#fff" stroke="#0c0c0c" stroke-width="3.3"/>
<path d="M159.5 729.2V749.8M157.3 730.3h4.4M157.3 748.7h4.4" stroke="#0c0c0c" stroke-width="2.5" fill="none"/>
<text x="169.7" y="892.4" font-size="11.8" text-anchor="middle">Bmal1</text>
<rect x="225.5" y="829.5" width="23.8" height="37.7" fill="#0c0c0c"/>
<path d="M237 822.5V829.5M234.5 823.5h5" stroke="#0c0c0c" stroke-width="2.2" fill="none"/>
<text x="226.3" y="892.4" font-size="11.8" text-anchor="middle">Per1</text>
<rect x="282.7" y="829.9" width="22.8" height="37.3" fill="#0c0c0c"/>
<path d="M293.8 826.5V829.9M291.3 827.5h5" stroke="#0c0c0c" stroke-width="2.2" fill="none"/>
<path d="M263.25 867.2V853.55H281.85V867.2" fill="#fff" stroke="#0c0c0c" stroke-width="3.3"/>
<text x="283.7" y="892.4" font-size="11.8" text-anchor="middle">Per2</text>
<rect x="340" y="848.7" width="22.5" height="18.5" fill="#0c0c0c"/>
<path d="M351.3 844.5V848.7M348.8 845.5h5" stroke="#0c0c0c" stroke-width="2.2" fill="none"/>
<path d="M321.05 867.2V849.65H338.85V867.2" fill="#fff" stroke="#0c0c0c" stroke-width="3.3"/>
<path d="M330.3 847V852.5M328.1 848.1h4.4M328.1 851.4h4.4" stroke="#0c0c0c" stroke-width="2.5" fill="none"/>
<text x="340.5" y="892.4" font-size="11.8" text-anchor="middle">Cry1</text>
<rect x="397" y="845" width="22.5" height="22.2" fill="#0c0c0c"/>
<path d="M408 840.8V845M405.5 841.8h5" stroke="#0c0c0c" stroke-width="2.2" fill="none"/>
<path d="M377.85 867.2V856.15H395.85V867.2" fill="#fff" stroke="#0c0c0c" stroke-width="3.3"/>
<path d="M387.5 852.5V858.8M385.3 853.6h4.4M385.3 857.7h4.4" stroke="#0c0c0c" stroke-width="2.5" fill="none"/>
<text x="398.2" y="892.4" font-size="11.8" text-anchor="middle">Cry2</text>
<rect x="205" y="864.3" width="20.5" height="2" fill="#333"/>
<line x1="78.6" y1="868" x2="430.2" y2="868" stroke="#0c0c0c" stroke-width="2.7"/>
<path d="M105.5 623.6V596.6H121.6V821.8" stroke="#fff" stroke-width="4.8" fill="none"/>
<path d="M105.5 623.6V596.6H121.6V821.8" stroke="#0c0c0c" stroke-width="2.7" fill="none" stroke-linejoin="round"/>
<text x="98.75" y="589.4" font-size="8.2" font-weight="bold" fill="#1a1a1a" textLength="26.75" lengthAdjust="spacingAndGlyphs">p &lt;0.05</text>
<path d="M159.5 724.4V697.6H180.2V818.8" stroke="#fff" stroke-width="4.8" fill="none"/>
<path d="M159.5 724.4V697.6H180.2V818.8" stroke="#0c0c0c" stroke-width="2.7" fill="none" stroke-linejoin="round"/>
<text x="160.1" y="692.4" font-size="8.2" font-weight="bold" fill="#1a1a1a" textLength="26.9" lengthAdjust="spacingAndGlyphs">p &lt;0.05</text>
<path d="M217 862V815.3H237.3V820.8" stroke="#fff" stroke-width="4.8" fill="none"/>
<path d="M217 862V815.3H237.3V820.8" stroke="#0c0c0c" stroke-width="2.7" fill="none" stroke-linejoin="round"/>
<text x="213" y="812.6" font-size="8.2" font-weight="bold" fill="#1a1a1a" textLength="27" lengthAdjust="spacingAndGlyphs">p &lt;0.05</text>
<path d="M273.7 847.6V820.6H294.6V825" stroke="#fff" stroke-width="4.8" fill="none"/>
<path d="M273.7 847.6V820.6H294.6V825" stroke="#0c0c0c" stroke-width="2.7" fill="none" stroke-linejoin="round"/>
<text x="272.4" y="816.4" font-size="8.2" font-weight="bold" fill="#1a1a1a" textLength="26.7" lengthAdjust="spacingAndGlyphs">p &lt;0.05</text>
<rect x="415.7" y="704.3" width="7.0" height="7.2" rx="1" fill="#fff" stroke="#0c0c0c" stroke-width="3.6"/>
<rect x="414.1" y="725.8" width="10" height="10.4" rx="0.8" fill="#0c0c0c"/>
<text x="431.2" y="712.9" font-size="12.5" textLength="87.5" lengthAdjust="spacingAndGlyphs">Undifferentiated</text>
<text x="431.2" y="734" font-size="12.5" textLength="73.2" lengthAdjust="spacingAndGlyphs">Differentiated</text>
<text x="30.8" y="720.5" font-size="10.2" text-anchor="middle" font-weight="bold" textLength="132.3" lengthAdjust="spacingAndGlyphs" transform="rotate(-90 30.8 720.5)">Relative mRNA expression</text>
<text x="2.2" y="587.9" font-size="20.5" font-weight="bold" textLength="13.2" lengthAdjust="spacingAndGlyphs">B</text>
</svg>
</body></html>
